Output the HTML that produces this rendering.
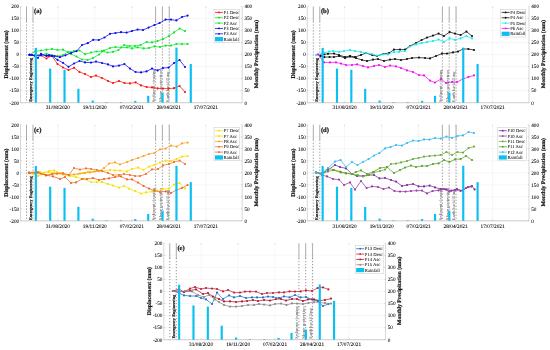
<!DOCTYPE html>
<html><head><meta charset="utf-8"><title>Figure</title>
<style>html,body{margin:0;padding:0;background:#fff;overflow:hidden;}svg{display:block;font-family:"Liberation Serif",serif;will-change:transform;text-rendering:geometricPrecision;}</style>
</head><body>
<svg width="550" height="350" viewBox="0 0 550 350" font-family='"Liberation Serif", serif'>
<rect width="550" height="350" fill="#fff"/>
<g id="pa">
<line x1="20.5" y1="18.52" x2="242.2" y2="18.52" stroke="#efefef" stroke-width="0.5"/>
<line x1="20.5" y1="30.55" x2="242.2" y2="30.55" stroke="#efefef" stroke-width="0.5"/>
<line x1="20.5" y1="42.58" x2="242.2" y2="42.58" stroke="#efefef" stroke-width="0.5"/>
<line x1="20.5" y1="54.6" x2="242.2" y2="54.6" stroke="#efefef" stroke-width="0.5"/>
<line x1="20.5" y1="66.62" x2="242.2" y2="66.62" stroke="#efefef" stroke-width="0.5"/>
<line x1="20.5" y1="78.65" x2="242.2" y2="78.65" stroke="#efefef" stroke-width="0.5"/>
<line x1="20.5" y1="90.67" x2="242.2" y2="90.67" stroke="#efefef" stroke-width="0.5"/>
<line x1="20.5" y1="102.7" x2="242.2" y2="102.7" stroke="#efefef" stroke-width="0.5"/>
<line x1="57.8" y1="6.5" x2="57.8" y2="102.7" stroke="#efefef" stroke-width="0.5"/>
<line x1="94.8" y1="6.5" x2="94.8" y2="102.7" stroke="#efefef" stroke-width="0.5"/>
<line x1="131.8" y1="6.5" x2="131.8" y2="102.7" stroke="#efefef" stroke-width="0.5"/>
<line x1="168.8" y1="6.5" x2="168.8" y2="102.7" stroke="#efefef" stroke-width="0.5"/>
<line x1="205.8" y1="6.5" x2="205.8" y2="102.7" stroke="#efefef" stroke-width="0.5"/>
<line x1="26.5" y1="6.5" x2="26.5" y2="21.5" stroke="#a2a2a2" stroke-width="0.9"/>
<line x1="26.5" y1="21.5" x2="26.5" y2="102.7" stroke="#606060" stroke-width="0.8" stroke-dasharray="1 2"/>
<line x1="33" y1="6.5" x2="33" y2="21.5" stroke="#a2a2a2" stroke-width="0.9"/>
<line x1="33" y1="21.5" x2="33" y2="102.7" stroke="#606060" stroke-width="0.8" stroke-dasharray="1 2"/>
<line x1="155.6" y1="6.5" x2="155.6" y2="21.5" stroke="#a2a2a2" stroke-width="0.9"/>
<line x1="155.6" y1="21.5" x2="155.6" y2="102.7" stroke="#606060" stroke-width="0.8" stroke-dasharray="1 2"/>
<line x1="162.4" y1="6.5" x2="162.4" y2="21.5" stroke="#a2a2a2" stroke-width="0.9"/>
<line x1="162.4" y1="21.5" x2="162.4" y2="102.7" stroke="#606060" stroke-width="0.8" stroke-dasharray="1 2"/>
<line x1="169.3" y1="6.5" x2="169.3" y2="21.5" stroke="#a2a2a2" stroke-width="0.9"/>
<line x1="169.3" y1="21.5" x2="169.3" y2="102.7" stroke="#606060" stroke-width="0.8" stroke-dasharray="1 2"/>
<text transform="translate(30.1,101.7) rotate(-90)" x="0" y="1.5" font-size="4.1" textLength="43.8" lengthAdjust="spacingAndGlyphs" fill="#1a1a1a" stroke="#1a1a1a" stroke-width="0.2">Emergency Engineering</text>
<text transform="translate(153.4,102.1) rotate(-90)" x="0" y="1.5" font-size="4.3" textLength="32.5" lengthAdjust="spacingAndGlyphs" fill="#555">Sediment cleaning</text>
<text transform="translate(160.2,102.1) rotate(-90)" x="0" y="1.5" font-size="4.3" textLength="32.5" lengthAdjust="spacingAndGlyphs" fill="#555">Slope protection</text>
<text transform="translate(167.1,102.1) rotate(-90)" x="0" y="1.5" font-size="4.3" textLength="30.5" lengthAdjust="spacingAndGlyphs" fill="#555">Earth backfilling</text>
<line x1="20.5" y1="6.5" x2="20.5" y2="102.7" stroke="#bdbdbd" stroke-width="0.6"/>
<line x1="242.2" y1="6.5" x2="242.2" y2="102.7" stroke="#bdbdbd" stroke-width="0.6"/>
<line x1="20.5" y1="102.7" x2="242.2" y2="102.7" stroke="#bdbdbd" stroke-width="0.7"/>
<line x1="20.5" y1="6.5" x2="21.8" y2="6.5" stroke="#bdbdbd" stroke-width="0.5"/>
<line x1="240.9" y1="6.5" x2="242.2" y2="6.5" stroke="#bdbdbd" stroke-width="0.5"/>
<line x1="20.5" y1="18.52" x2="21.8" y2="18.52" stroke="#bdbdbd" stroke-width="0.5"/>
<line x1="240.9" y1="18.52" x2="242.2" y2="18.52" stroke="#bdbdbd" stroke-width="0.5"/>
<line x1="20.5" y1="30.55" x2="21.8" y2="30.55" stroke="#bdbdbd" stroke-width="0.5"/>
<line x1="240.9" y1="30.55" x2="242.2" y2="30.55" stroke="#bdbdbd" stroke-width="0.5"/>
<line x1="20.5" y1="42.58" x2="21.8" y2="42.58" stroke="#bdbdbd" stroke-width="0.5"/>
<line x1="240.9" y1="42.58" x2="242.2" y2="42.58" stroke="#bdbdbd" stroke-width="0.5"/>
<line x1="20.5" y1="54.6" x2="21.8" y2="54.6" stroke="#bdbdbd" stroke-width="0.5"/>
<line x1="240.9" y1="54.6" x2="242.2" y2="54.6" stroke="#bdbdbd" stroke-width="0.5"/>
<line x1="20.5" y1="66.62" x2="21.8" y2="66.62" stroke="#bdbdbd" stroke-width="0.5"/>
<line x1="240.9" y1="66.62" x2="242.2" y2="66.62" stroke="#bdbdbd" stroke-width="0.5"/>
<line x1="20.5" y1="78.65" x2="21.8" y2="78.65" stroke="#bdbdbd" stroke-width="0.5"/>
<line x1="240.9" y1="78.65" x2="242.2" y2="78.65" stroke="#bdbdbd" stroke-width="0.5"/>
<line x1="20.5" y1="90.67" x2="21.8" y2="90.67" stroke="#bdbdbd" stroke-width="0.5"/>
<line x1="240.9" y1="90.67" x2="242.2" y2="90.67" stroke="#bdbdbd" stroke-width="0.5"/>
<line x1="20.5" y1="102.7" x2="21.8" y2="102.7" stroke="#bdbdbd" stroke-width="0.5"/>
<line x1="240.9" y1="102.7" x2="242.2" y2="102.7" stroke="#bdbdbd" stroke-width="0.5"/>
<line x1="57.8" y1="101.4" x2="57.8" y2="102.7" stroke="#bdbdbd" stroke-width="0.5"/>
<line x1="57.8" y1="6.5" x2="57.8" y2="8" stroke="#bdbdbd" stroke-width="0.5"/>
<line x1="94.8" y1="101.4" x2="94.8" y2="102.7" stroke="#bdbdbd" stroke-width="0.5"/>
<line x1="94.8" y1="6.5" x2="94.8" y2="8" stroke="#bdbdbd" stroke-width="0.5"/>
<line x1="131.8" y1="101.4" x2="131.8" y2="102.7" stroke="#bdbdbd" stroke-width="0.5"/>
<line x1="131.8" y1="6.5" x2="131.8" y2="8" stroke="#bdbdbd" stroke-width="0.5"/>
<line x1="168.8" y1="101.4" x2="168.8" y2="102.7" stroke="#bdbdbd" stroke-width="0.5"/>
<line x1="168.8" y1="6.5" x2="168.8" y2="8" stroke="#bdbdbd" stroke-width="0.5"/>
<line x1="205.8" y1="101.4" x2="205.8" y2="102.7" stroke="#bdbdbd" stroke-width="0.5"/>
<line x1="205.8" y1="6.5" x2="205.8" y2="8" stroke="#bdbdbd" stroke-width="0.5"/>
<text x="19.1" y="8.3" font-size="5.2" text-anchor="end" fill="#000" stroke="#000" stroke-width="0.07">200</text>
<text x="244.4" y="8.3" font-size="5.2" fill="#000" stroke="#000" stroke-width="0.07">400</text>
<text x="19.1" y="20.32" font-size="5.2" text-anchor="end" fill="#000" stroke="#000" stroke-width="0.07">150</text>
<text x="244.4" y="20.32" font-size="5.2" fill="#000" stroke="#000" stroke-width="0.07">350</text>
<text x="19.1" y="32.35" font-size="5.2" text-anchor="end" fill="#000" stroke="#000" stroke-width="0.07">100</text>
<text x="244.4" y="32.35" font-size="5.2" fill="#000" stroke="#000" stroke-width="0.07">300</text>
<text x="19.1" y="44.38" font-size="5.2" text-anchor="end" fill="#000" stroke="#000" stroke-width="0.07">50</text>
<text x="244.4" y="44.38" font-size="5.2" fill="#000" stroke="#000" stroke-width="0.07">250</text>
<text x="19.1" y="56.4" font-size="5.2" text-anchor="end" fill="#000" stroke="#000" stroke-width="0.07">0</text>
<text x="244.4" y="56.4" font-size="5.2" fill="#000" stroke="#000" stroke-width="0.07">200</text>
<text x="19.1" y="68.42" font-size="5.2" text-anchor="end" fill="#000" stroke="#000" stroke-width="0.07">-50</text>
<text x="244.4" y="68.42" font-size="5.2" fill="#000" stroke="#000" stroke-width="0.07">150</text>
<text x="19.1" y="80.45" font-size="5.2" text-anchor="end" fill="#000" stroke="#000" stroke-width="0.07">-100</text>
<text x="244.4" y="80.45" font-size="5.2" fill="#000" stroke="#000" stroke-width="0.07">100</text>
<text x="19.1" y="92.47" font-size="5.2" text-anchor="end" fill="#000" stroke="#000" stroke-width="0.07">-150</text>
<text x="244.4" y="92.47" font-size="5.2" fill="#000" stroke="#000" stroke-width="0.07">50</text>
<text x="19.1" y="104.5" font-size="5.2" text-anchor="end" fill="#000" stroke="#000" stroke-width="0.07">-200</text>
<text x="244.4" y="104.5" font-size="5.2" fill="#000" stroke="#000" stroke-width="0.07">0</text>
<text x="57.8" y="109.4" font-size="5.3" text-anchor="middle" fill="#000" stroke="#000" stroke-width="0.07">31/08/2020</text>
<text x="94.8" y="109.4" font-size="5.3" text-anchor="middle" fill="#000" stroke="#000" stroke-width="0.07">19/11/2020</text>
<text x="131.8" y="109.4" font-size="5.3" text-anchor="middle" fill="#000" stroke="#000" stroke-width="0.07">07/02/2021</text>
<text x="168.8" y="109.4" font-size="5.3" text-anchor="middle" fill="#000" stroke="#000" stroke-width="0.07">28/04/2021</text>
<text x="205.8" y="109.4" font-size="5.3" text-anchor="middle" fill="#000" stroke="#000" stroke-width="0.07">17/07/2021</text>
<text transform="translate(8,54.4) rotate(-90)" x="0" y="0" font-size="5.8" font-weight="bold" text-anchor="middle" textLength="48.2" lengthAdjust="spacingAndGlyphs" fill="#111" stroke="#111" stroke-width="0.2">Displacement (mm)</text>
<text transform="translate(257.9,54.05) rotate(-90)" x="0" y="0" font-size="5.6" font-weight="bold" text-anchor="middle" textLength="68.3" lengthAdjust="spacingAndGlyphs" fill="#111" stroke="#111" stroke-width="0.2">Monthly Precipitation (mm)</text>
<text x="34.1" y="13.4" font-size="6.6" font-weight="bold" fill="#111" stroke="#111" stroke-width="0.2">(a)</text>
<polyline points="29.5,54.8 35,55.5 41,55.5 46.5,58.5 49,56.5 52,56 57.5,64 63,67.5 68.5,70 74,67.8 79.5,72 85,74 91,77 96,75.6 102,78 108,81 113,83 119,81 124.4,83 130,83.4 135.6,82.4 141,85.4 146.6,87 152,87.4 157.6,88.4 163,88.6 168.6,88.6 174,88.2 179.6,86 185,92" fill="none" stroke="#ff1010" stroke-width="0.75" stroke-linejoin="round"/>
<circle cx="29.5" cy="54.8" r="1.1" fill="#ff1010"/>
<circle cx="35" cy="55.5" r="1.1" fill="#ff1010"/>
<circle cx="41" cy="55.5" r="1.1" fill="#ff1010"/>
<circle cx="46.5" cy="58.5" r="1.1" fill="#ff1010"/>
<circle cx="49" cy="56.5" r="1.1" fill="#ff1010"/>
<circle cx="52" cy="56" r="1.1" fill="#ff1010"/>
<circle cx="57.5" cy="64" r="1.1" fill="#ff1010"/>
<circle cx="63" cy="67.5" r="1.1" fill="#ff1010"/>
<circle cx="68.5" cy="70" r="1.1" fill="#ff1010"/>
<circle cx="74" cy="67.8" r="1.1" fill="#ff1010"/>
<circle cx="79.5" cy="72" r="1.1" fill="#ff1010"/>
<circle cx="85" cy="74" r="1.1" fill="#ff1010"/>
<circle cx="91" cy="77" r="1.1" fill="#ff1010"/>
<circle cx="96" cy="75.6" r="1.1" fill="#ff1010"/>
<circle cx="102" cy="78" r="1.1" fill="#ff1010"/>
<circle cx="108" cy="81" r="1.1" fill="#ff1010"/>
<circle cx="113" cy="83" r="1.1" fill="#ff1010"/>
<circle cx="119" cy="81" r="1.1" fill="#ff1010"/>
<circle cx="124.4" cy="83" r="1.1" fill="#ff1010"/>
<circle cx="130" cy="83.4" r="1.1" fill="#ff1010"/>
<circle cx="135.6" cy="82.4" r="1.1" fill="#ff1010"/>
<circle cx="141" cy="85.4" r="1.1" fill="#ff1010"/>
<circle cx="146.6" cy="87" r="1.1" fill="#ff1010"/>
<circle cx="152" cy="87.4" r="1.1" fill="#ff1010"/>
<circle cx="157.6" cy="88.4" r="1.1" fill="#ff1010"/>
<circle cx="163" cy="88.6" r="1.1" fill="#ff1010"/>
<circle cx="168.6" cy="88.6" r="1.1" fill="#ff1010"/>
<circle cx="174" cy="88.2" r="1.1" fill="#ff1010"/>
<circle cx="179.6" cy="86" r="1.1" fill="#ff1010"/>
<circle cx="185" cy="92" r="1.1" fill="#ff1010"/>
<polyline points="29.5,54.8 35,51.5 41,50.5 46.5,49.7 52,49 57.5,50 63,49.7 68.5,52.5 71,54 76.5,56.5 82,59.5 87.5,60 93,58 99,54.5 104,50.5 110,48 115.5,47 121,47.5 127,47.4 132,48.4 137.6,47.4 143.6,48.4 149,48 154.4,46.4 160,47 165.6,45.6 171,45.6 176.4,44 182,44 187.6,44" fill="none" stroke="#08e828" stroke-width="0.75" stroke-linejoin="round"/>
<circle cx="29.5" cy="54.8" r="1.1" fill="#08e828"/>
<circle cx="35" cy="51.5" r="1.1" fill="#08e828"/>
<circle cx="41" cy="50.5" r="1.1" fill="#08e828"/>
<circle cx="46.5" cy="49.7" r="1.1" fill="#08e828"/>
<circle cx="52" cy="49" r="1.1" fill="#08e828"/>
<circle cx="57.5" cy="50" r="1.1" fill="#08e828"/>
<circle cx="63" cy="49.7" r="1.1" fill="#08e828"/>
<circle cx="68.5" cy="52.5" r="1.1" fill="#08e828"/>
<circle cx="71" cy="54" r="1.1" fill="#08e828"/>
<circle cx="76.5" cy="56.5" r="1.1" fill="#08e828"/>
<circle cx="82" cy="59.5" r="1.1" fill="#08e828"/>
<circle cx="87.5" cy="60" r="1.1" fill="#08e828"/>
<circle cx="93" cy="58" r="1.1" fill="#08e828"/>
<circle cx="99" cy="54.5" r="1.1" fill="#08e828"/>
<circle cx="104" cy="50.5" r="1.1" fill="#08e828"/>
<circle cx="110" cy="48" r="1.1" fill="#08e828"/>
<circle cx="115.5" cy="47" r="1.1" fill="#08e828"/>
<circle cx="121" cy="47.5" r="1.1" fill="#08e828"/>
<circle cx="127" cy="47.4" r="1.1" fill="#08e828"/>
<circle cx="132" cy="48.4" r="1.1" fill="#08e828"/>
<circle cx="137.6" cy="47.4" r="1.1" fill="#08e828"/>
<circle cx="143.6" cy="48.4" r="1.1" fill="#08e828"/>
<circle cx="149" cy="48" r="1.1" fill="#08e828"/>
<circle cx="154.4" cy="46.4" r="1.1" fill="#08e828"/>
<circle cx="160" cy="47" r="1.1" fill="#08e828"/>
<circle cx="165.6" cy="45.6" r="1.1" fill="#08e828"/>
<circle cx="171" cy="45.6" r="1.1" fill="#08e828"/>
<circle cx="176.4" cy="44" r="1.1" fill="#08e828"/>
<circle cx="182" cy="44" r="1.1" fill="#08e828"/>
<circle cx="187.6" cy="44" r="1.1" fill="#08e828"/>
<polyline points="29.5,54.8 35,55.5 41,54.5 46.5,53.8 52,55 57.5,56.2 63,55 68,52 74,51.2 79.5,50.5 85,54.2 91,52.5 96.5,51.5 102,51.2 107.5,52.5 113,51.8 118.5,50 124,45 129.6,46 135,46 140.6,45 146.6,42 152,42.4 157.6,41 163,39 169,36 174,32.4 179.6,28.6 185,31" fill="none" stroke="#08e828" stroke-width="0.75" stroke-linejoin="round"/>
<circle cx="29.5" cy="54.8" r="1.1" fill="#08e828"/>
<circle cx="35" cy="55.5" r="1.1" fill="#08e828"/>
<circle cx="41" cy="54.5" r="1.1" fill="#08e828"/>
<circle cx="46.5" cy="53.8" r="1.1" fill="#08e828"/>
<circle cx="52" cy="55" r="1.1" fill="#08e828"/>
<circle cx="57.5" cy="56.2" r="1.1" fill="#08e828"/>
<circle cx="63" cy="55" r="1.1" fill="#08e828"/>
<circle cx="68" cy="52" r="1.1" fill="#08e828"/>
<circle cx="74" cy="51.2" r="1.1" fill="#08e828"/>
<circle cx="79.5" cy="50.5" r="1.1" fill="#08e828"/>
<circle cx="85" cy="54.2" r="1.1" fill="#08e828"/>
<circle cx="91" cy="52.5" r="1.1" fill="#08e828"/>
<circle cx="96.5" cy="51.5" r="1.1" fill="#08e828"/>
<circle cx="102" cy="51.2" r="1.1" fill="#08e828"/>
<circle cx="107.5" cy="52.5" r="1.1" fill="#08e828"/>
<circle cx="113" cy="51.8" r="1.1" fill="#08e828"/>
<circle cx="118.5" cy="50" r="1.1" fill="#08e828"/>
<circle cx="124" cy="45" r="1.1" fill="#08e828"/>
<circle cx="129.6" cy="46" r="1.1" fill="#08e828"/>
<circle cx="135" cy="46" r="1.1" fill="#08e828"/>
<circle cx="140.6" cy="45" r="1.1" fill="#08e828"/>
<circle cx="146.6" cy="42" r="1.1" fill="#08e828"/>
<circle cx="152" cy="42.4" r="1.1" fill="#08e828"/>
<circle cx="157.6" cy="41" r="1.1" fill="#08e828"/>
<circle cx="163" cy="39" r="1.1" fill="#08e828"/>
<circle cx="169" cy="36" r="1.1" fill="#08e828"/>
<circle cx="174" cy="32.4" r="1.1" fill="#08e828"/>
<circle cx="179.6" cy="28.6" r="1.1" fill="#08e828"/>
<circle cx="185" cy="31" r="1.1" fill="#08e828"/>
<polyline points="29.5,54.8 32,55 38,57.8 41,53.8 46.5,56 49,55 52,56 54.5,56 60,57.2 65.5,55.3 71,53 76.5,51.2 82,45 87.8,43.2 93.2,39.8 98.8,40 104.5,37.5 110,33.8 115.5,33 121,32.2 126.6,32.6 132,31 137.6,29.6 143,30 148.6,27.6 154.4,25 159.6,23 165.6,19.6 171,19.6 176.4,20.4 182,17 187.6,15.6" fill="none" stroke="#0a0af0" stroke-width="0.75" stroke-linejoin="round"/>
<circle cx="29.5" cy="54.8" r="1.1" fill="#0a0af0"/>
<circle cx="32" cy="55" r="1.1" fill="#0a0af0"/>
<circle cx="38" cy="57.8" r="1.1" fill="#0a0af0"/>
<circle cx="41" cy="53.8" r="1.1" fill="#0a0af0"/>
<circle cx="46.5" cy="56" r="1.1" fill="#0a0af0"/>
<circle cx="49" cy="55" r="1.1" fill="#0a0af0"/>
<circle cx="52" cy="56" r="1.1" fill="#0a0af0"/>
<circle cx="54.5" cy="56" r="1.1" fill="#0a0af0"/>
<circle cx="60" cy="57.2" r="1.1" fill="#0a0af0"/>
<circle cx="65.5" cy="55.3" r="1.1" fill="#0a0af0"/>
<circle cx="71" cy="53" r="1.1" fill="#0a0af0"/>
<circle cx="76.5" cy="51.2" r="1.1" fill="#0a0af0"/>
<circle cx="82" cy="45" r="1.1" fill="#0a0af0"/>
<circle cx="87.8" cy="43.2" r="1.1" fill="#0a0af0"/>
<circle cx="93.2" cy="39.8" r="1.1" fill="#0a0af0"/>
<circle cx="98.8" cy="40" r="1.1" fill="#0a0af0"/>
<circle cx="104.5" cy="37.5" r="1.1" fill="#0a0af0"/>
<circle cx="110" cy="33.8" r="1.1" fill="#0a0af0"/>
<circle cx="115.5" cy="33" r="1.1" fill="#0a0af0"/>
<circle cx="121" cy="32.2" r="1.1" fill="#0a0af0"/>
<circle cx="126.6" cy="32.6" r="1.1" fill="#0a0af0"/>
<circle cx="132" cy="31" r="1.1" fill="#0a0af0"/>
<circle cx="137.6" cy="29.6" r="1.1" fill="#0a0af0"/>
<circle cx="143" cy="30" r="1.1" fill="#0a0af0"/>
<circle cx="148.6" cy="27.6" r="1.1" fill="#0a0af0"/>
<circle cx="154.4" cy="25" r="1.1" fill="#0a0af0"/>
<circle cx="159.6" cy="23" r="1.1" fill="#0a0af0"/>
<circle cx="165.6" cy="19.6" r="1.1" fill="#0a0af0"/>
<circle cx="171" cy="19.6" r="1.1" fill="#0a0af0"/>
<circle cx="176.4" cy="20.4" r="1.1" fill="#0a0af0"/>
<circle cx="182" cy="17" r="1.1" fill="#0a0af0"/>
<circle cx="187.6" cy="15.6" r="1.1" fill="#0a0af0"/>
<polyline points="29.5,54.8 35,55.5 41,55 46.5,55.5 52,56 57.5,59.8 63,62.8 68.5,66.8 74,63.5 79.5,61 85,62.4 91,62.6 96,61.6 102,63 108,64.4 113,66.4 119,65.6 124.4,64 130,68.6 135.6,72 141,72.4 146.6,71.4 152,68.6 157.6,70.4 163,68 168.6,67.6 174,63 179.6,60 185,67" fill="none" stroke="#0a0af0" stroke-width="0.75" stroke-linejoin="round"/>
<circle cx="29.5" cy="54.8" r="1.1" fill="#0a0af0"/>
<circle cx="35" cy="55.5" r="1.1" fill="#0a0af0"/>
<circle cx="41" cy="55" r="1.1" fill="#0a0af0"/>
<circle cx="46.5" cy="55.5" r="1.1" fill="#0a0af0"/>
<circle cx="52" cy="56" r="1.1" fill="#0a0af0"/>
<circle cx="57.5" cy="59.8" r="1.1" fill="#0a0af0"/>
<circle cx="63" cy="62.8" r="1.1" fill="#0a0af0"/>
<circle cx="68.5" cy="66.8" r="1.1" fill="#0a0af0"/>
<circle cx="74" cy="63.5" r="1.1" fill="#0a0af0"/>
<circle cx="79.5" cy="61" r="1.1" fill="#0a0af0"/>
<circle cx="85" cy="62.4" r="1.1" fill="#0a0af0"/>
<circle cx="91" cy="62.6" r="1.1" fill="#0a0af0"/>
<circle cx="96" cy="61.6" r="1.1" fill="#0a0af0"/>
<circle cx="102" cy="63" r="1.1" fill="#0a0af0"/>
<circle cx="108" cy="64.4" r="1.1" fill="#0a0af0"/>
<circle cx="113" cy="66.4" r="1.1" fill="#0a0af0"/>
<circle cx="119" cy="65.6" r="1.1" fill="#0a0af0"/>
<circle cx="124.4" cy="64" r="1.1" fill="#0a0af0"/>
<circle cx="130" cy="68.6" r="1.1" fill="#0a0af0"/>
<circle cx="135.6" cy="72" r="1.1" fill="#0a0af0"/>
<circle cx="141" cy="72.4" r="1.1" fill="#0a0af0"/>
<circle cx="146.6" cy="71.4" r="1.1" fill="#0a0af0"/>
<circle cx="152" cy="68.6" r="1.1" fill="#0a0af0"/>
<circle cx="157.6" cy="70.4" r="1.1" fill="#0a0af0"/>
<circle cx="163" cy="68" r="1.1" fill="#0a0af0"/>
<circle cx="168.6" cy="67.6" r="1.1" fill="#0a0af0"/>
<circle cx="174" cy="63" r="1.1" fill="#0a0af0"/>
<circle cx="179.6" cy="60" r="1.1" fill="#0a0af0"/>
<circle cx="185" cy="67" r="1.1" fill="#0a0af0"/>
<rect x="34.77" y="47.87" width="2.15" height="54.83" fill="#0bbff0"/>
<rect x="49.11" y="68.55" width="2.15" height="34.15" fill="#0bbff0"/>
<rect x="63.45" y="69.75" width="2.15" height="32.95" fill="#0bbff0"/>
<rect x="77.33" y="88.75" width="2.15" height="13.95" fill="#0bbff0"/>
<rect x="91.66" y="100.54" width="2.15" height="2.16" fill="#0bbff0"/>
<rect x="105.54" y="102.1" width="2.15" height="0.6" fill="#0bbff0"/>
<rect x="119.88" y="102.1" width="2.15" height="0.6" fill="#0bbff0"/>
<rect x="134.21" y="100.9" width="2.15" height="1.8" fill="#0bbff0"/>
<rect x="147.16" y="95.85" width="2.15" height="6.85" fill="#0bbff0"/>
<rect x="161.5" y="92.6" width="2.15" height="10.1" fill="#0bbff0"/>
<rect x="175.38" y="47.63" width="2.15" height="55.07" fill="#0bbff0"/>
<rect x="189.71" y="63.98" width="2.15" height="38.72" fill="#0bbff0"/>
<rect x="214" y="9.3" width="25.8" height="33.1" fill="#fff" stroke="#c8c8c8" stroke-width="0.5"/>
<line x1="215" y1="12.4" x2="223" y2="12.4" stroke="#ff1010" stroke-width="0.8"/>
<circle cx="219" cy="12.4" r="0.9" fill="#ff1010"/>
<text x="223.6" y="14" font-size="4.7" fill="#222" stroke="#222" stroke-width="0.05">P1 Desc</text>
<line x1="215" y1="17.75" x2="223" y2="17.75" stroke="#08e828" stroke-width="0.8"/>
<circle cx="219" cy="17.75" r="0.9" fill="#08e828"/>
<text x="223.6" y="19.35" font-size="4.7" fill="#222" stroke="#222" stroke-width="0.05">P2 Desc</text>
<line x1="215" y1="23.1" x2="223" y2="23.1" stroke="#08e828" stroke-width="0.8"/>
<circle cx="219" cy="23.1" r="0.9" fill="#08e828"/>
<text x="223.6" y="24.7" font-size="4.7" fill="#222" stroke="#222" stroke-width="0.05">P2 Asc</text>
<line x1="215" y1="28.45" x2="223" y2="28.45" stroke="#0a0af0" stroke-width="0.8"/>
<circle cx="219" cy="28.45" r="0.9" fill="#0a0af0"/>
<text x="223.6" y="30.05" font-size="4.7" fill="#222" stroke="#222" stroke-width="0.05">P3 Desc</text>
<line x1="215" y1="33.8" x2="223" y2="33.8" stroke="#0a0af0" stroke-width="0.8"/>
<circle cx="219" cy="33.8" r="0.9" fill="#0a0af0"/>
<text x="223.6" y="35.4" font-size="4.7" fill="#222" stroke="#222" stroke-width="0.05">P3 Asc</text>
<rect x="215" y="37.05" width="8.0" height="4.2" fill="#0bbff0"/>
<text x="223.6" y="40.75" font-size="4.7" fill="#222" stroke="#222" stroke-width="0.05">Rainfall</text>
</g>
<g id="pb">
<line x1="307.3" y1="18.52" x2="529" y2="18.52" stroke="#efefef" stroke-width="0.5"/>
<line x1="307.3" y1="30.55" x2="529" y2="30.55" stroke="#efefef" stroke-width="0.5"/>
<line x1="307.3" y1="42.58" x2="529" y2="42.58" stroke="#efefef" stroke-width="0.5"/>
<line x1="307.3" y1="54.6" x2="529" y2="54.6" stroke="#efefef" stroke-width="0.5"/>
<line x1="307.3" y1="66.62" x2="529" y2="66.62" stroke="#efefef" stroke-width="0.5"/>
<line x1="307.3" y1="78.65" x2="529" y2="78.65" stroke="#efefef" stroke-width="0.5"/>
<line x1="307.3" y1="90.67" x2="529" y2="90.67" stroke="#efefef" stroke-width="0.5"/>
<line x1="307.3" y1="102.7" x2="529" y2="102.7" stroke="#efefef" stroke-width="0.5"/>
<line x1="344.6" y1="6.5" x2="344.6" y2="102.7" stroke="#efefef" stroke-width="0.5"/>
<line x1="381.6" y1="6.5" x2="381.6" y2="102.7" stroke="#efefef" stroke-width="0.5"/>
<line x1="418.6" y1="6.5" x2="418.6" y2="102.7" stroke="#efefef" stroke-width="0.5"/>
<line x1="455.6" y1="6.5" x2="455.6" y2="102.7" stroke="#efefef" stroke-width="0.5"/>
<line x1="492.6" y1="6.5" x2="492.6" y2="102.7" stroke="#efefef" stroke-width="0.5"/>
<line x1="313.3" y1="6.5" x2="313.3" y2="21.5" stroke="#a2a2a2" stroke-width="0.9"/>
<line x1="313.3" y1="21.5" x2="313.3" y2="102.7" stroke="#606060" stroke-width="0.8" stroke-dasharray="1 2"/>
<line x1="319.8" y1="6.5" x2="319.8" y2="21.5" stroke="#a2a2a2" stroke-width="0.9"/>
<line x1="319.8" y1="21.5" x2="319.8" y2="102.7" stroke="#606060" stroke-width="0.8" stroke-dasharray="1 2"/>
<line x1="442.4" y1="6.5" x2="442.4" y2="21.5" stroke="#a2a2a2" stroke-width="0.9"/>
<line x1="442.4" y1="21.5" x2="442.4" y2="102.7" stroke="#606060" stroke-width="0.8" stroke-dasharray="1 2"/>
<line x1="449.2" y1="6.5" x2="449.2" y2="21.5" stroke="#a2a2a2" stroke-width="0.9"/>
<line x1="449.2" y1="21.5" x2="449.2" y2="102.7" stroke="#606060" stroke-width="0.8" stroke-dasharray="1 2"/>
<line x1="456.1" y1="6.5" x2="456.1" y2="21.5" stroke="#a2a2a2" stroke-width="0.9"/>
<line x1="456.1" y1="21.5" x2="456.1" y2="102.7" stroke="#606060" stroke-width="0.8" stroke-dasharray="1 2"/>
<text transform="translate(316.9,101.7) rotate(-90)" x="0" y="1.5" font-size="4.1" textLength="43.8" lengthAdjust="spacingAndGlyphs" fill="#1a1a1a" stroke="#1a1a1a" stroke-width="0.2">Emergency Engineering</text>
<text transform="translate(440.2,102.1) rotate(-90)" x="0" y="1.5" font-size="4.3" textLength="32.5" lengthAdjust="spacingAndGlyphs" fill="#555">Sediment cleaning</text>
<text transform="translate(447,102.1) rotate(-90)" x="0" y="1.5" font-size="4.3" textLength="32.5" lengthAdjust="spacingAndGlyphs" fill="#555">Slope protection</text>
<text transform="translate(453.9,102.1) rotate(-90)" x="0" y="1.5" font-size="4.3" textLength="30.5" lengthAdjust="spacingAndGlyphs" fill="#555">Earth backfilling</text>
<line x1="307.3" y1="6.5" x2="307.3" y2="102.7" stroke="#bdbdbd" stroke-width="0.6"/>
<line x1="529" y1="6.5" x2="529" y2="102.7" stroke="#bdbdbd" stroke-width="0.6"/>
<line x1="307.3" y1="102.7" x2="529" y2="102.7" stroke="#bdbdbd" stroke-width="0.7"/>
<line x1="307.3" y1="6.5" x2="308.6" y2="6.5" stroke="#bdbdbd" stroke-width="0.5"/>
<line x1="527.7" y1="6.5" x2="529" y2="6.5" stroke="#bdbdbd" stroke-width="0.5"/>
<line x1="307.3" y1="18.52" x2="308.6" y2="18.52" stroke="#bdbdbd" stroke-width="0.5"/>
<line x1="527.7" y1="18.52" x2="529" y2="18.52" stroke="#bdbdbd" stroke-width="0.5"/>
<line x1="307.3" y1="30.55" x2="308.6" y2="30.55" stroke="#bdbdbd" stroke-width="0.5"/>
<line x1="527.7" y1="30.55" x2="529" y2="30.55" stroke="#bdbdbd" stroke-width="0.5"/>
<line x1="307.3" y1="42.58" x2="308.6" y2="42.58" stroke="#bdbdbd" stroke-width="0.5"/>
<line x1="527.7" y1="42.58" x2="529" y2="42.58" stroke="#bdbdbd" stroke-width="0.5"/>
<line x1="307.3" y1="54.6" x2="308.6" y2="54.6" stroke="#bdbdbd" stroke-width="0.5"/>
<line x1="527.7" y1="54.6" x2="529" y2="54.6" stroke="#bdbdbd" stroke-width="0.5"/>
<line x1="307.3" y1="66.62" x2="308.6" y2="66.62" stroke="#bdbdbd" stroke-width="0.5"/>
<line x1="527.7" y1="66.62" x2="529" y2="66.62" stroke="#bdbdbd" stroke-width="0.5"/>
<line x1="307.3" y1="78.65" x2="308.6" y2="78.65" stroke="#bdbdbd" stroke-width="0.5"/>
<line x1="527.7" y1="78.65" x2="529" y2="78.65" stroke="#bdbdbd" stroke-width="0.5"/>
<line x1="307.3" y1="90.67" x2="308.6" y2="90.67" stroke="#bdbdbd" stroke-width="0.5"/>
<line x1="527.7" y1="90.67" x2="529" y2="90.67" stroke="#bdbdbd" stroke-width="0.5"/>
<line x1="307.3" y1="102.7" x2="308.6" y2="102.7" stroke="#bdbdbd" stroke-width="0.5"/>
<line x1="527.7" y1="102.7" x2="529" y2="102.7" stroke="#bdbdbd" stroke-width="0.5"/>
<line x1="344.6" y1="101.4" x2="344.6" y2="102.7" stroke="#bdbdbd" stroke-width="0.5"/>
<line x1="344.6" y1="6.5" x2="344.6" y2="8" stroke="#bdbdbd" stroke-width="0.5"/>
<line x1="381.6" y1="101.4" x2="381.6" y2="102.7" stroke="#bdbdbd" stroke-width="0.5"/>
<line x1="381.6" y1="6.5" x2="381.6" y2="8" stroke="#bdbdbd" stroke-width="0.5"/>
<line x1="418.6" y1="101.4" x2="418.6" y2="102.7" stroke="#bdbdbd" stroke-width="0.5"/>
<line x1="418.6" y1="6.5" x2="418.6" y2="8" stroke="#bdbdbd" stroke-width="0.5"/>
<line x1="455.6" y1="101.4" x2="455.6" y2="102.7" stroke="#bdbdbd" stroke-width="0.5"/>
<line x1="455.6" y1="6.5" x2="455.6" y2="8" stroke="#bdbdbd" stroke-width="0.5"/>
<line x1="492.6" y1="101.4" x2="492.6" y2="102.7" stroke="#bdbdbd" stroke-width="0.5"/>
<line x1="492.6" y1="6.5" x2="492.6" y2="8" stroke="#bdbdbd" stroke-width="0.5"/>
<text x="305.9" y="8.3" font-size="5.2" text-anchor="end" fill="#000" stroke="#000" stroke-width="0.07">200</text>
<text x="531.2" y="8.3" font-size="5.2" fill="#000" stroke="#000" stroke-width="0.07">400</text>
<text x="305.9" y="20.32" font-size="5.2" text-anchor="end" fill="#000" stroke="#000" stroke-width="0.07">150</text>
<text x="531.2" y="20.32" font-size="5.2" fill="#000" stroke="#000" stroke-width="0.07">350</text>
<text x="305.9" y="32.35" font-size="5.2" text-anchor="end" fill="#000" stroke="#000" stroke-width="0.07">100</text>
<text x="531.2" y="32.35" font-size="5.2" fill="#000" stroke="#000" stroke-width="0.07">300</text>
<text x="305.9" y="44.38" font-size="5.2" text-anchor="end" fill="#000" stroke="#000" stroke-width="0.07">50</text>
<text x="531.2" y="44.38" font-size="5.2" fill="#000" stroke="#000" stroke-width="0.07">250</text>
<text x="305.9" y="56.4" font-size="5.2" text-anchor="end" fill="#000" stroke="#000" stroke-width="0.07">0</text>
<text x="531.2" y="56.4" font-size="5.2" fill="#000" stroke="#000" stroke-width="0.07">200</text>
<text x="305.9" y="68.42" font-size="5.2" text-anchor="end" fill="#000" stroke="#000" stroke-width="0.07">-50</text>
<text x="531.2" y="68.42" font-size="5.2" fill="#000" stroke="#000" stroke-width="0.07">150</text>
<text x="305.9" y="80.45" font-size="5.2" text-anchor="end" fill="#000" stroke="#000" stroke-width="0.07">-100</text>
<text x="531.2" y="80.45" font-size="5.2" fill="#000" stroke="#000" stroke-width="0.07">100</text>
<text x="305.9" y="92.47" font-size="5.2" text-anchor="end" fill="#000" stroke="#000" stroke-width="0.07">-150</text>
<text x="531.2" y="92.47" font-size="5.2" fill="#000" stroke="#000" stroke-width="0.07">50</text>
<text x="305.9" y="104.5" font-size="5.2" text-anchor="end" fill="#000" stroke="#000" stroke-width="0.07">-200</text>
<text x="531.2" y="104.5" font-size="5.2" fill="#000" stroke="#000" stroke-width="0.07">0</text>
<text x="344.6" y="109.4" font-size="5.3" text-anchor="middle" fill="#000" stroke="#000" stroke-width="0.07">31/08/2020</text>
<text x="381.6" y="109.4" font-size="5.3" text-anchor="middle" fill="#000" stroke="#000" stroke-width="0.07">19/11/2020</text>
<text x="418.6" y="109.4" font-size="5.3" text-anchor="middle" fill="#000" stroke="#000" stroke-width="0.07">07/02/2021</text>
<text x="455.6" y="109.4" font-size="5.3" text-anchor="middle" fill="#000" stroke="#000" stroke-width="0.07">28/04/2021</text>
<text x="492.6" y="109.4" font-size="5.3" text-anchor="middle" fill="#000" stroke="#000" stroke-width="0.07">17/07/2021</text>
<text transform="translate(294.8,54.4) rotate(-90)" x="0" y="0" font-size="5.8" font-weight="bold" text-anchor="middle" textLength="48.2" lengthAdjust="spacingAndGlyphs" fill="#111" stroke="#111" stroke-width="0.2">Displacement (mm)</text>
<text transform="translate(544.7,54.05) rotate(-90)" x="0" y="0" font-size="5.6" font-weight="bold" text-anchor="middle" textLength="68.3" lengthAdjust="spacingAndGlyphs" fill="#111" stroke="#111" stroke-width="0.2">Monthly Precipitation (mm)</text>
<text x="320.9" y="13.4" font-size="6.6" font-weight="bold" fill="#111" stroke="#111" stroke-width="0.2">(b)</text>
<polyline points="320.5,55.6 324.3,54.3 328,53.8 334,53.6 339,55 345,57 350,56 355,57 361,55 366,53 372,55 377,56 383,54 389,53 394,49.6 400,49.6 405,49.6 410,46 416,43 421.6,40 427,37.6 433,35.6 438.6,33.6 444,36 449.6,32 455,33.6 460.6,35 466.4,31.6 472,36" fill="none" stroke="#111111" stroke-width="0.75" stroke-linejoin="round"/>
<circle cx="320.5" cy="55.6" r="1.1" fill="#111111"/>
<circle cx="324.3" cy="54.3" r="1.1" fill="#111111"/>
<circle cx="328" cy="53.8" r="1.1" fill="#111111"/>
<circle cx="334" cy="53.6" r="1.1" fill="#111111"/>
<circle cx="339" cy="55" r="1.1" fill="#111111"/>
<circle cx="345" cy="57" r="1.1" fill="#111111"/>
<circle cx="350" cy="56" r="1.1" fill="#111111"/>
<circle cx="355" cy="57" r="1.1" fill="#111111"/>
<circle cx="361" cy="55" r="1.1" fill="#111111"/>
<circle cx="366" cy="53" r="1.1" fill="#111111"/>
<circle cx="372" cy="55" r="1.1" fill="#111111"/>
<circle cx="377" cy="56" r="1.1" fill="#111111"/>
<circle cx="383" cy="54" r="1.1" fill="#111111"/>
<circle cx="389" cy="53" r="1.1" fill="#111111"/>
<circle cx="394" cy="49.6" r="1.1" fill="#111111"/>
<circle cx="400" cy="49.6" r="1.1" fill="#111111"/>
<circle cx="405" cy="49.6" r="1.1" fill="#111111"/>
<circle cx="410" cy="46" r="1.1" fill="#111111"/>
<circle cx="416" cy="43" r="1.1" fill="#111111"/>
<circle cx="421.6" cy="40" r="1.1" fill="#111111"/>
<circle cx="427" cy="37.6" r="1.1" fill="#111111"/>
<circle cx="433" cy="35.6" r="1.1" fill="#111111"/>
<circle cx="438.6" cy="33.6" r="1.1" fill="#111111"/>
<circle cx="444" cy="36" r="1.1" fill="#111111"/>
<circle cx="449.6" cy="32" r="1.1" fill="#111111"/>
<circle cx="455" cy="33.6" r="1.1" fill="#111111"/>
<circle cx="460.6" cy="35" r="1.1" fill="#111111"/>
<circle cx="466.4" cy="31.6" r="1.1" fill="#111111"/>
<circle cx="472" cy="36" r="1.1" fill="#111111"/>
<polyline points="320.5,56 324.3,57.1 329.5,57 334,57 339,56 345,58 350,56.6 356,58 362,60 367,61 373,59.6 378,59 384,61 390,59.6 395,59 401,60 407,59 412,58 419,57.6 425,58 430,58.4 436,56 442,53.6 447,53.6 453,52.4 458,51.6 463,49 468.4,49 474,50" fill="none" stroke="#111111" stroke-width="0.75" stroke-linejoin="round"/>
<circle cx="320.5" cy="56" r="1.1" fill="#111111"/>
<circle cx="324.3" cy="57.1" r="1.1" fill="#111111"/>
<circle cx="329.5" cy="57" r="1.1" fill="#111111"/>
<circle cx="334" cy="57" r="1.1" fill="#111111"/>
<circle cx="339" cy="56" r="1.1" fill="#111111"/>
<circle cx="345" cy="58" r="1.1" fill="#111111"/>
<circle cx="350" cy="56.6" r="1.1" fill="#111111"/>
<circle cx="356" cy="58" r="1.1" fill="#111111"/>
<circle cx="362" cy="60" r="1.1" fill="#111111"/>
<circle cx="367" cy="61" r="1.1" fill="#111111"/>
<circle cx="373" cy="59.6" r="1.1" fill="#111111"/>
<circle cx="378" cy="59" r="1.1" fill="#111111"/>
<circle cx="384" cy="61" r="1.1" fill="#111111"/>
<circle cx="390" cy="59.6" r="1.1" fill="#111111"/>
<circle cx="395" cy="59" r="1.1" fill="#111111"/>
<circle cx="401" cy="60" r="1.1" fill="#111111"/>
<circle cx="407" cy="59" r="1.1" fill="#111111"/>
<circle cx="412" cy="58" r="1.1" fill="#111111"/>
<circle cx="419" cy="57.6" r="1.1" fill="#111111"/>
<circle cx="425" cy="58" r="1.1" fill="#111111"/>
<circle cx="430" cy="58.4" r="1.1" fill="#111111"/>
<circle cx="436" cy="56" r="1.1" fill="#111111"/>
<circle cx="442" cy="53.6" r="1.1" fill="#111111"/>
<circle cx="447" cy="53.6" r="1.1" fill="#111111"/>
<circle cx="453" cy="52.4" r="1.1" fill="#111111"/>
<circle cx="458" cy="51.6" r="1.1" fill="#111111"/>
<circle cx="463" cy="49" r="1.1" fill="#111111"/>
<circle cx="468.4" cy="49" r="1.1" fill="#111111"/>
<circle cx="474" cy="50" r="1.1" fill="#111111"/>
<polyline points="316.1,55 324.5,52.8 329,51.6 333,51 339,52 344,51 350,50 355,51 361,52 366,53 372,54 377,55.6 383,54.4 388,54.4 394,52 399,52 405,51 410,46.5 416,44.4 421.6,43 427,42 433,41 438.6,39.6 444,42 449.6,38.4 455,40 460.6,38.4 466.4,36 472,38.4" fill="none" stroke="#10ecec" stroke-width="0.75" stroke-linejoin="round"/>
<circle cx="316.1" cy="55" r="1.1" fill="#10ecec"/>
<circle cx="324.5" cy="52.8" r="1.1" fill="#10ecec"/>
<circle cx="329" cy="51.6" r="1.1" fill="#10ecec"/>
<circle cx="333" cy="51" r="1.1" fill="#10ecec"/>
<circle cx="339" cy="52" r="1.1" fill="#10ecec"/>
<circle cx="344" cy="51" r="1.1" fill="#10ecec"/>
<circle cx="350" cy="50" r="1.1" fill="#10ecec"/>
<circle cx="355" cy="51" r="1.1" fill="#10ecec"/>
<circle cx="361" cy="52" r="1.1" fill="#10ecec"/>
<circle cx="366" cy="53" r="1.1" fill="#10ecec"/>
<circle cx="372" cy="54" r="1.1" fill="#10ecec"/>
<circle cx="377" cy="55.6" r="1.1" fill="#10ecec"/>
<circle cx="383" cy="54.4" r="1.1" fill="#10ecec"/>
<circle cx="388" cy="54.4" r="1.1" fill="#10ecec"/>
<circle cx="394" cy="52" r="1.1" fill="#10ecec"/>
<circle cx="399" cy="52" r="1.1" fill="#10ecec"/>
<circle cx="405" cy="51" r="1.1" fill="#10ecec"/>
<circle cx="410" cy="46.5" r="1.1" fill="#10ecec"/>
<circle cx="416" cy="44.4" r="1.1" fill="#10ecec"/>
<circle cx="421.6" cy="43" r="1.1" fill="#10ecec"/>
<circle cx="427" cy="42" r="1.1" fill="#10ecec"/>
<circle cx="433" cy="41" r="1.1" fill="#10ecec"/>
<circle cx="438.6" cy="39.6" r="1.1" fill="#10ecec"/>
<circle cx="444" cy="42" r="1.1" fill="#10ecec"/>
<circle cx="449.6" cy="38.4" r="1.1" fill="#10ecec"/>
<circle cx="455" cy="40" r="1.1" fill="#10ecec"/>
<circle cx="460.6" cy="38.4" r="1.1" fill="#10ecec"/>
<circle cx="466.4" cy="36" r="1.1" fill="#10ecec"/>
<circle cx="472" cy="38.4" r="1.1" fill="#10ecec"/>
<polyline points="318,54.4 324,62.4 330,62.4 336,62.4 341,63.6 346,65 352,65 357,64.4 363,66 368,67.4 374,66 379,65 385,67 390,65.6 396,66.4 401,68 407,70.4 413,72 419,75 424,75.4 430,80.6 435,82.6 441,79 446,83 452,82 457,82 463,79 468.4,77 474,75.4" fill="none" stroke="#f010f0" stroke-width="0.75" stroke-linejoin="round"/>
<circle cx="318" cy="54.4" r="1.1" fill="#f010f0"/>
<circle cx="324" cy="62.4" r="1.1" fill="#f010f0"/>
<circle cx="330" cy="62.4" r="1.1" fill="#f010f0"/>
<circle cx="336" cy="62.4" r="1.1" fill="#f010f0"/>
<circle cx="341" cy="63.6" r="1.1" fill="#f010f0"/>
<circle cx="346" cy="65" r="1.1" fill="#f010f0"/>
<circle cx="352" cy="65" r="1.1" fill="#f010f0"/>
<circle cx="357" cy="64.4" r="1.1" fill="#f010f0"/>
<circle cx="363" cy="66" r="1.1" fill="#f010f0"/>
<circle cx="368" cy="67.4" r="1.1" fill="#f010f0"/>
<circle cx="374" cy="66" r="1.1" fill="#f010f0"/>
<circle cx="379" cy="65" r="1.1" fill="#f010f0"/>
<circle cx="385" cy="67" r="1.1" fill="#f010f0"/>
<circle cx="390" cy="65.6" r="1.1" fill="#f010f0"/>
<circle cx="396" cy="66.4" r="1.1" fill="#f010f0"/>
<circle cx="401" cy="68" r="1.1" fill="#f010f0"/>
<circle cx="407" cy="70.4" r="1.1" fill="#f010f0"/>
<circle cx="413" cy="72" r="1.1" fill="#f010f0"/>
<circle cx="419" cy="75" r="1.1" fill="#f010f0"/>
<circle cx="424" cy="75.4" r="1.1" fill="#f010f0"/>
<circle cx="430" cy="80.6" r="1.1" fill="#f010f0"/>
<circle cx="435" cy="82.6" r="1.1" fill="#f010f0"/>
<circle cx="441" cy="79" r="1.1" fill="#f010f0"/>
<circle cx="446" cy="83" r="1.1" fill="#f010f0"/>
<circle cx="452" cy="82" r="1.1" fill="#f010f0"/>
<circle cx="457" cy="82" r="1.1" fill="#f010f0"/>
<circle cx="463" cy="79" r="1.1" fill="#f010f0"/>
<circle cx="468.4" cy="77" r="1.1" fill="#f010f0"/>
<circle cx="474" cy="75.4" r="1.1" fill="#f010f0"/>
<rect x="321.58" y="47.87" width="2.15" height="54.83" fill="#0bbff0"/>
<rect x="335.91" y="68.55" width="2.15" height="34.15" fill="#0bbff0"/>
<rect x="350.25" y="69.75" width="2.15" height="32.95" fill="#0bbff0"/>
<rect x="364.12" y="88.75" width="2.15" height="13.95" fill="#0bbff0"/>
<rect x="378.46" y="100.54" width="2.15" height="2.16" fill="#0bbff0"/>
<rect x="392.34" y="102.1" width="2.15" height="0.6" fill="#0bbff0"/>
<rect x="406.68" y="102.1" width="2.15" height="0.6" fill="#0bbff0"/>
<rect x="421.01" y="100.9" width="2.15" height="1.8" fill="#0bbff0"/>
<rect x="433.96" y="95.85" width="2.15" height="6.85" fill="#0bbff0"/>
<rect x="448.3" y="92.6" width="2.15" height="10.1" fill="#0bbff0"/>
<rect x="462.18" y="47.63" width="2.15" height="55.07" fill="#0bbff0"/>
<rect x="476.51" y="63.98" width="2.15" height="38.72" fill="#0bbff0"/>
<rect x="500.6" y="9.3" width="25.2" height="27.75" fill="#fff" stroke="#c8c8c8" stroke-width="0.5"/>
<line x1="501.6" y1="12.4" x2="509.6" y2="12.4" stroke="#111111" stroke-width="0.8"/>
<circle cx="505.6" cy="12.4" r="0.9" fill="#111111"/>
<text x="510.2" y="14" font-size="4.7" fill="#222" stroke="#222" stroke-width="0.05">P4 Desc</text>
<line x1="501.6" y1="17.75" x2="509.6" y2="17.75" stroke="#111111" stroke-width="0.8"/>
<circle cx="505.6" cy="17.75" r="0.9" fill="#111111"/>
<text x="510.2" y="19.35" font-size="4.7" fill="#222" stroke="#222" stroke-width="0.05">P4 Asc</text>
<line x1="501.6" y1="23.1" x2="509.6" y2="23.1" stroke="#10ecec" stroke-width="0.8"/>
<circle cx="505.6" cy="23.1" r="0.9" fill="#10ecec"/>
<text x="510.2" y="24.7" font-size="4.7" fill="#222" stroke="#222" stroke-width="0.05">P5 Desc</text>
<line x1="501.6" y1="28.45" x2="509.6" y2="28.45" stroke="#f010f0" stroke-width="0.8"/>
<circle cx="505.6" cy="28.45" r="0.9" fill="#f010f0"/>
<text x="510.2" y="30.05" font-size="4.7" fill="#222" stroke="#222" stroke-width="0.05">P6 Asc</text>
<rect x="501.6" y="31.7" width="8.0" height="4.2" fill="#0bbff0"/>
<text x="510.2" y="35.4" font-size="4.7" fill="#222" stroke="#222" stroke-width="0.05">Rainfall</text>
</g>
<g id="pc">
<line x1="20.5" y1="136.71" x2="242.2" y2="136.71" stroke="#efefef" stroke-width="0.5"/>
<line x1="20.5" y1="148.72" x2="242.2" y2="148.72" stroke="#efefef" stroke-width="0.5"/>
<line x1="20.5" y1="160.74" x2="242.2" y2="160.74" stroke="#efefef" stroke-width="0.5"/>
<line x1="20.5" y1="172.75" x2="242.2" y2="172.75" stroke="#efefef" stroke-width="0.5"/>
<line x1="20.5" y1="184.76" x2="242.2" y2="184.76" stroke="#efefef" stroke-width="0.5"/>
<line x1="20.5" y1="196.77" x2="242.2" y2="196.77" stroke="#efefef" stroke-width="0.5"/>
<line x1="20.5" y1="208.79" x2="242.2" y2="208.79" stroke="#efefef" stroke-width="0.5"/>
<line x1="20.5" y1="220.8" x2="242.2" y2="220.8" stroke="#efefef" stroke-width="0.5"/>
<line x1="57.8" y1="124.7" x2="57.8" y2="220.8" stroke="#efefef" stroke-width="0.5"/>
<line x1="94.8" y1="124.7" x2="94.8" y2="220.8" stroke="#efefef" stroke-width="0.5"/>
<line x1="131.8" y1="124.7" x2="131.8" y2="220.8" stroke="#efefef" stroke-width="0.5"/>
<line x1="168.8" y1="124.7" x2="168.8" y2="220.8" stroke="#efefef" stroke-width="0.5"/>
<line x1="205.8" y1="124.7" x2="205.8" y2="220.8" stroke="#efefef" stroke-width="0.5"/>
<line x1="26.5" y1="124.7" x2="26.5" y2="139.7" stroke="#a2a2a2" stroke-width="0.9"/>
<line x1="26.5" y1="139.7" x2="26.5" y2="220.8" stroke="#606060" stroke-width="0.8" stroke-dasharray="1 2"/>
<line x1="33" y1="124.7" x2="33" y2="139.7" stroke="#a2a2a2" stroke-width="0.9"/>
<line x1="33" y1="139.7" x2="33" y2="220.8" stroke="#606060" stroke-width="0.8" stroke-dasharray="1 2"/>
<line x1="155.6" y1="124.7" x2="155.6" y2="139.7" stroke="#a2a2a2" stroke-width="0.9"/>
<line x1="155.6" y1="139.7" x2="155.6" y2="220.8" stroke="#606060" stroke-width="0.8" stroke-dasharray="1 2"/>
<line x1="162.4" y1="124.7" x2="162.4" y2="139.7" stroke="#a2a2a2" stroke-width="0.9"/>
<line x1="162.4" y1="139.7" x2="162.4" y2="220.8" stroke="#606060" stroke-width="0.8" stroke-dasharray="1 2"/>
<line x1="169.3" y1="124.7" x2="169.3" y2="139.7" stroke="#a2a2a2" stroke-width="0.9"/>
<line x1="169.3" y1="139.7" x2="169.3" y2="220.8" stroke="#606060" stroke-width="0.8" stroke-dasharray="1 2"/>
<text transform="translate(30.1,219.9) rotate(-90)" x="0" y="1.5" font-size="4.1" textLength="43.8" lengthAdjust="spacingAndGlyphs" fill="#1a1a1a" stroke="#1a1a1a" stroke-width="0.2">Emergency Engineering</text>
<text transform="translate(153.4,220.3) rotate(-90)" x="0" y="1.5" font-size="4.3" textLength="32.5" lengthAdjust="spacingAndGlyphs" fill="#555">Sediment cleaning</text>
<text transform="translate(160.2,220.3) rotate(-90)" x="0" y="1.5" font-size="4.3" textLength="32.5" lengthAdjust="spacingAndGlyphs" fill="#555">Slope protection</text>
<text transform="translate(167.1,220.3) rotate(-90)" x="0" y="1.5" font-size="4.3" textLength="30.5" lengthAdjust="spacingAndGlyphs" fill="#555">Earth backfilling</text>
<line x1="20.5" y1="124.7" x2="20.5" y2="220.8" stroke="#bdbdbd" stroke-width="0.6"/>
<line x1="242.2" y1="124.7" x2="242.2" y2="220.8" stroke="#bdbdbd" stroke-width="0.6"/>
<line x1="20.5" y1="220.8" x2="242.2" y2="220.8" stroke="#bdbdbd" stroke-width="0.7"/>
<line x1="20.5" y1="124.7" x2="21.8" y2="124.7" stroke="#bdbdbd" stroke-width="0.5"/>
<line x1="240.9" y1="124.7" x2="242.2" y2="124.7" stroke="#bdbdbd" stroke-width="0.5"/>
<line x1="20.5" y1="136.71" x2="21.8" y2="136.71" stroke="#bdbdbd" stroke-width="0.5"/>
<line x1="240.9" y1="136.71" x2="242.2" y2="136.71" stroke="#bdbdbd" stroke-width="0.5"/>
<line x1="20.5" y1="148.72" x2="21.8" y2="148.72" stroke="#bdbdbd" stroke-width="0.5"/>
<line x1="240.9" y1="148.72" x2="242.2" y2="148.72" stroke="#bdbdbd" stroke-width="0.5"/>
<line x1="20.5" y1="160.74" x2="21.8" y2="160.74" stroke="#bdbdbd" stroke-width="0.5"/>
<line x1="240.9" y1="160.74" x2="242.2" y2="160.74" stroke="#bdbdbd" stroke-width="0.5"/>
<line x1="20.5" y1="172.75" x2="21.8" y2="172.75" stroke="#bdbdbd" stroke-width="0.5"/>
<line x1="240.9" y1="172.75" x2="242.2" y2="172.75" stroke="#bdbdbd" stroke-width="0.5"/>
<line x1="20.5" y1="184.76" x2="21.8" y2="184.76" stroke="#bdbdbd" stroke-width="0.5"/>
<line x1="240.9" y1="184.76" x2="242.2" y2="184.76" stroke="#bdbdbd" stroke-width="0.5"/>
<line x1="20.5" y1="196.77" x2="21.8" y2="196.77" stroke="#bdbdbd" stroke-width="0.5"/>
<line x1="240.9" y1="196.77" x2="242.2" y2="196.77" stroke="#bdbdbd" stroke-width="0.5"/>
<line x1="20.5" y1="208.79" x2="21.8" y2="208.79" stroke="#bdbdbd" stroke-width="0.5"/>
<line x1="240.9" y1="208.79" x2="242.2" y2="208.79" stroke="#bdbdbd" stroke-width="0.5"/>
<line x1="20.5" y1="220.8" x2="21.8" y2="220.8" stroke="#bdbdbd" stroke-width="0.5"/>
<line x1="240.9" y1="220.8" x2="242.2" y2="220.8" stroke="#bdbdbd" stroke-width="0.5"/>
<line x1="57.8" y1="219.5" x2="57.8" y2="220.8" stroke="#bdbdbd" stroke-width="0.5"/>
<line x1="57.8" y1="124.7" x2="57.8" y2="126.2" stroke="#bdbdbd" stroke-width="0.5"/>
<line x1="94.8" y1="219.5" x2="94.8" y2="220.8" stroke="#bdbdbd" stroke-width="0.5"/>
<line x1="94.8" y1="124.7" x2="94.8" y2="126.2" stroke="#bdbdbd" stroke-width="0.5"/>
<line x1="131.8" y1="219.5" x2="131.8" y2="220.8" stroke="#bdbdbd" stroke-width="0.5"/>
<line x1="131.8" y1="124.7" x2="131.8" y2="126.2" stroke="#bdbdbd" stroke-width="0.5"/>
<line x1="168.8" y1="219.5" x2="168.8" y2="220.8" stroke="#bdbdbd" stroke-width="0.5"/>
<line x1="168.8" y1="124.7" x2="168.8" y2="126.2" stroke="#bdbdbd" stroke-width="0.5"/>
<line x1="205.8" y1="219.5" x2="205.8" y2="220.8" stroke="#bdbdbd" stroke-width="0.5"/>
<line x1="205.8" y1="124.7" x2="205.8" y2="126.2" stroke="#bdbdbd" stroke-width="0.5"/>
<text x="19.1" y="126.5" font-size="5.2" text-anchor="end" fill="#000" stroke="#000" stroke-width="0.07">200</text>
<text x="244.4" y="126.5" font-size="5.2" fill="#000" stroke="#000" stroke-width="0.07">400</text>
<text x="19.1" y="138.51" font-size="5.2" text-anchor="end" fill="#000" stroke="#000" stroke-width="0.07">150</text>
<text x="244.4" y="138.51" font-size="5.2" fill="#000" stroke="#000" stroke-width="0.07">350</text>
<text x="19.1" y="150.53" font-size="5.2" text-anchor="end" fill="#000" stroke="#000" stroke-width="0.07">100</text>
<text x="244.4" y="150.53" font-size="5.2" fill="#000" stroke="#000" stroke-width="0.07">300</text>
<text x="19.1" y="162.54" font-size="5.2" text-anchor="end" fill="#000" stroke="#000" stroke-width="0.07">50</text>
<text x="244.4" y="162.54" font-size="5.2" fill="#000" stroke="#000" stroke-width="0.07">250</text>
<text x="19.1" y="174.55" font-size="5.2" text-anchor="end" fill="#000" stroke="#000" stroke-width="0.07">0</text>
<text x="244.4" y="174.55" font-size="5.2" fill="#000" stroke="#000" stroke-width="0.07">200</text>
<text x="19.1" y="186.56" font-size="5.2" text-anchor="end" fill="#000" stroke="#000" stroke-width="0.07">-50</text>
<text x="244.4" y="186.56" font-size="5.2" fill="#000" stroke="#000" stroke-width="0.07">150</text>
<text x="19.1" y="198.57" font-size="5.2" text-anchor="end" fill="#000" stroke="#000" stroke-width="0.07">-100</text>
<text x="244.4" y="198.57" font-size="5.2" fill="#000" stroke="#000" stroke-width="0.07">100</text>
<text x="19.1" y="210.59" font-size="5.2" text-anchor="end" fill="#000" stroke="#000" stroke-width="0.07">-150</text>
<text x="244.4" y="210.59" font-size="5.2" fill="#000" stroke="#000" stroke-width="0.07">50</text>
<text x="19.1" y="222.6" font-size="5.2" text-anchor="end" fill="#000" stroke="#000" stroke-width="0.07">-200</text>
<text x="244.4" y="222.6" font-size="5.2" fill="#000" stroke="#000" stroke-width="0.07">0</text>
<text x="57.8" y="227.5" font-size="5.3" text-anchor="middle" fill="#000" stroke="#000" stroke-width="0.07">31/08/2020</text>
<text x="94.8" y="227.5" font-size="5.3" text-anchor="middle" fill="#000" stroke="#000" stroke-width="0.07">19/11/2020</text>
<text x="131.8" y="227.5" font-size="5.3" text-anchor="middle" fill="#000" stroke="#000" stroke-width="0.07">07/02/2021</text>
<text x="168.8" y="227.5" font-size="5.3" text-anchor="middle" fill="#000" stroke="#000" stroke-width="0.07">28/04/2021</text>
<text x="205.8" y="227.5" font-size="5.3" text-anchor="middle" fill="#000" stroke="#000" stroke-width="0.07">17/07/2021</text>
<text transform="translate(8,172.6) rotate(-90)" x="0" y="0" font-size="5.8" font-weight="bold" text-anchor="middle" textLength="48.2" lengthAdjust="spacingAndGlyphs" fill="#111" stroke="#111" stroke-width="0.2">Displacement (mm)</text>
<text transform="translate(257.9,172.25) rotate(-90)" x="0" y="0" font-size="5.6" font-weight="bold" text-anchor="middle" textLength="68.3" lengthAdjust="spacingAndGlyphs" fill="#111" stroke="#111" stroke-width="0.2">Monthly Precipitation (mm)</text>
<text x="34.1" y="131.6" font-size="6.6" font-weight="bold" fill="#111" stroke="#111" stroke-width="0.2">(c)</text>
<polyline points="29,173 38,176 44,173 49,171 54,170.4 60,173 69,176 76,177 84,179 91,182 97,182 102,182 108,184 113,185.6 119,187.6 124,186 129,188.6 135,191 141,193.6 146,192.4 152,191.6 157,190.6 163,189 169,188.6 174,184.6 179.6,183 185,188.6" fill="none" stroke="#f0e400" stroke-width="0.75" stroke-linejoin="round"/>
<circle cx="29" cy="173" r="1.1" fill="#f0e400"/>
<circle cx="38" cy="176" r="1.1" fill="#f0e400"/>
<circle cx="44" cy="173" r="1.1" fill="#f0e400"/>
<circle cx="49" cy="171" r="1.1" fill="#f0e400"/>
<circle cx="54" cy="170.4" r="1.1" fill="#f0e400"/>
<circle cx="60" cy="173" r="1.1" fill="#f0e400"/>
<circle cx="69" cy="176" r="1.1" fill="#f0e400"/>
<circle cx="76" cy="177" r="1.1" fill="#f0e400"/>
<circle cx="84" cy="179" r="1.1" fill="#f0e400"/>
<circle cx="91" cy="182" r="1.1" fill="#f0e400"/>
<circle cx="97" cy="182" r="1.1" fill="#f0e400"/>
<circle cx="102" cy="182" r="1.1" fill="#f0e400"/>
<circle cx="108" cy="184" r="1.1" fill="#f0e400"/>
<circle cx="113" cy="185.6" r="1.1" fill="#f0e400"/>
<circle cx="119" cy="187.6" r="1.1" fill="#f0e400"/>
<circle cx="124" cy="186" r="1.1" fill="#f0e400"/>
<circle cx="129" cy="188.6" r="1.1" fill="#f0e400"/>
<circle cx="135" cy="191" r="1.1" fill="#f0e400"/>
<circle cx="141" cy="193.6" r="1.1" fill="#f0e400"/>
<circle cx="146" cy="192.4" r="1.1" fill="#f0e400"/>
<circle cx="152" cy="191.6" r="1.1" fill="#f0e400"/>
<circle cx="157" cy="190.6" r="1.1" fill="#f0e400"/>
<circle cx="163" cy="189" r="1.1" fill="#f0e400"/>
<circle cx="169" cy="188.6" r="1.1" fill="#f0e400"/>
<circle cx="174" cy="184.6" r="1.1" fill="#f0e400"/>
<circle cx="179.6" cy="183" r="1.1" fill="#f0e400"/>
<circle cx="185" cy="188.6" r="1.1" fill="#f0e400"/>
<polyline points="29,173 35,172.6 40,172.4 49,172 54,172.5 60,173 69,175.6 78,174 83,172.8 88,171.6 93,171.6 102,171 110,170 115,170.3 120,170.6 127,171.4 132,169 138,167.6 143.6,170 149,166.6 154.4,165 160,162.6 165.6,160.6 171,161 176.6,159 182,156.6 187.6,156" fill="none" stroke="#fbdc00" stroke-width="0.75" stroke-linejoin="round"/>
<circle cx="29" cy="173" r="1.1" fill="#fbdc00"/>
<circle cx="35" cy="172.6" r="1.1" fill="#fbdc00"/>
<circle cx="40" cy="172.4" r="1.1" fill="#fbdc00"/>
<circle cx="49" cy="172" r="1.1" fill="#fbdc00"/>
<circle cx="54" cy="172.5" r="1.1" fill="#fbdc00"/>
<circle cx="60" cy="173" r="1.1" fill="#fbdc00"/>
<circle cx="69" cy="175.6" r="1.1" fill="#fbdc00"/>
<circle cx="78" cy="174" r="1.1" fill="#fbdc00"/>
<circle cx="83" cy="172.8" r="1.1" fill="#fbdc00"/>
<circle cx="88" cy="171.6" r="1.1" fill="#fbdc00"/>
<circle cx="93" cy="171.6" r="1.1" fill="#fbdc00"/>
<circle cx="102" cy="171" r="1.1" fill="#fbdc00"/>
<circle cx="110" cy="170" r="1.1" fill="#fbdc00"/>
<circle cx="115" cy="170.3" r="1.1" fill="#fbdc00"/>
<circle cx="120" cy="170.6" r="1.1" fill="#fbdc00"/>
<circle cx="127" cy="171.4" r="1.1" fill="#fbdc00"/>
<circle cx="132" cy="169" r="1.1" fill="#fbdc00"/>
<circle cx="138" cy="167.6" r="1.1" fill="#fbdc00"/>
<circle cx="143.6" cy="170" r="1.1" fill="#fbdc00"/>
<circle cx="149" cy="166.6" r="1.1" fill="#fbdc00"/>
<circle cx="154.4" cy="165" r="1.1" fill="#fbdc00"/>
<circle cx="160" cy="162.6" r="1.1" fill="#fbdc00"/>
<circle cx="165.6" cy="160.6" r="1.1" fill="#fbdc00"/>
<circle cx="171" cy="161" r="1.1" fill="#fbdc00"/>
<circle cx="176.6" cy="159" r="1.1" fill="#fbdc00"/>
<circle cx="182" cy="156.6" r="1.1" fill="#fbdc00"/>
<circle cx="187.6" cy="156" r="1.1" fill="#fbdc00"/>
<polyline points="29,173 35,173.5 41,174 46,175 52,174 57,173.5 63,174.5 69,175 74,174.5 80,173.6 85,173 90,172.4 95,171.5 99,171 104,168 109,163.6 115,162.4 120,164.5 127,162 132,160 138,158 143.6,156 149,154 154.4,153 160,149.4 165.6,148.6 171,145.6 176.6,146.6 182,143.4 187.6,142.6" fill="none" stroke="#f6a42a" stroke-width="0.75" stroke-linejoin="round"/>
<circle cx="29" cy="173" r="1.1" fill="#f6a42a"/>
<circle cx="35" cy="173.5" r="1.1" fill="#f6a42a"/>
<circle cx="41" cy="174" r="1.1" fill="#f6a42a"/>
<circle cx="46" cy="175" r="1.1" fill="#f6a42a"/>
<circle cx="52" cy="174" r="1.1" fill="#f6a42a"/>
<circle cx="57" cy="173.5" r="1.1" fill="#f6a42a"/>
<circle cx="63" cy="174.5" r="1.1" fill="#f6a42a"/>
<circle cx="69" cy="175" r="1.1" fill="#f6a42a"/>
<circle cx="74" cy="174.5" r="1.1" fill="#f6a42a"/>
<circle cx="80" cy="173.6" r="1.1" fill="#f6a42a"/>
<circle cx="85" cy="173" r="1.1" fill="#f6a42a"/>
<circle cx="90" cy="172.4" r="1.1" fill="#f6a42a"/>
<circle cx="95" cy="171.5" r="1.1" fill="#f6a42a"/>
<circle cx="99" cy="171" r="1.1" fill="#f6a42a"/>
<circle cx="104" cy="168" r="1.1" fill="#f6a42a"/>
<circle cx="109" cy="163.6" r="1.1" fill="#f6a42a"/>
<circle cx="115" cy="162.4" r="1.1" fill="#f6a42a"/>
<circle cx="120" cy="164.5" r="1.1" fill="#f6a42a"/>
<circle cx="127" cy="162" r="1.1" fill="#f6a42a"/>
<circle cx="132" cy="160" r="1.1" fill="#f6a42a"/>
<circle cx="138" cy="158" r="1.1" fill="#f6a42a"/>
<circle cx="143.6" cy="156" r="1.1" fill="#f6a42a"/>
<circle cx="149" cy="154" r="1.1" fill="#f6a42a"/>
<circle cx="154.4" cy="153" r="1.1" fill="#f6a42a"/>
<circle cx="160" cy="149.4" r="1.1" fill="#f6a42a"/>
<circle cx="165.6" cy="148.6" r="1.1" fill="#f6a42a"/>
<circle cx="171" cy="145.6" r="1.1" fill="#f6a42a"/>
<circle cx="176.6" cy="146.6" r="1.1" fill="#f6a42a"/>
<circle cx="182" cy="143.4" r="1.1" fill="#f6a42a"/>
<circle cx="187.6" cy="142.6" r="1.1" fill="#f6a42a"/>
<polyline points="29,172.4 38,172 46,175.6 52,174 57,173.6 63,173 69,175 74,168 80,169.6 86,168.4 91,169 97,170 102,171 108,173 113,175 119,175 124,174 130,175 135,176 140,176 146,174 152,169.4 158,169 163,165.4 169,164 174,162 179.6,160.6 185,164" fill="none" stroke="#f07030" stroke-width="0.75" stroke-linejoin="round"/>
<circle cx="29" cy="172.4" r="1.1" fill="#f07030"/>
<circle cx="38" cy="172" r="1.1" fill="#f07030"/>
<circle cx="46" cy="175.6" r="1.1" fill="#f07030"/>
<circle cx="52" cy="174" r="1.1" fill="#f07030"/>
<circle cx="57" cy="173.6" r="1.1" fill="#f07030"/>
<circle cx="63" cy="173" r="1.1" fill="#f07030"/>
<circle cx="69" cy="175" r="1.1" fill="#f07030"/>
<circle cx="74" cy="168" r="1.1" fill="#f07030"/>
<circle cx="80" cy="169.6" r="1.1" fill="#f07030"/>
<circle cx="86" cy="168.4" r="1.1" fill="#f07030"/>
<circle cx="91" cy="169" r="1.1" fill="#f07030"/>
<circle cx="97" cy="170" r="1.1" fill="#f07030"/>
<circle cx="102" cy="171" r="1.1" fill="#f07030"/>
<circle cx="108" cy="173" r="1.1" fill="#f07030"/>
<circle cx="113" cy="175" r="1.1" fill="#f07030"/>
<circle cx="119" cy="175" r="1.1" fill="#f07030"/>
<circle cx="124" cy="174" r="1.1" fill="#f07030"/>
<circle cx="130" cy="175" r="1.1" fill="#f07030"/>
<circle cx="135" cy="176" r="1.1" fill="#f07030"/>
<circle cx="140" cy="176" r="1.1" fill="#f07030"/>
<circle cx="146" cy="174" r="1.1" fill="#f07030"/>
<circle cx="152" cy="169.4" r="1.1" fill="#f07030"/>
<circle cx="158" cy="169" r="1.1" fill="#f07030"/>
<circle cx="163" cy="165.4" r="1.1" fill="#f07030"/>
<circle cx="169" cy="164" r="1.1" fill="#f07030"/>
<circle cx="174" cy="162" r="1.1" fill="#f07030"/>
<circle cx="179.6" cy="160.6" r="1.1" fill="#f07030"/>
<circle cx="185" cy="164" r="1.1" fill="#f07030"/>
<polyline points="29,173 38,172.6 46,175 53,176.4 60,179 65,177 71,183 76,182.4 82,179 87,179 93,178 99,180 104,179 109,178.4 115,177 121,176.4 127,179.4 132,179.4 138,182.6 143.6,186 149,188.6 154.4,190.6 160,192 165.6,191.4 171,193 176.6,190 182,188 187.6,185" fill="none" stroke="#ee6428" stroke-width="0.75" stroke-linejoin="round"/>
<circle cx="29" cy="173" r="1.1" fill="#ee6428"/>
<circle cx="38" cy="172.6" r="1.1" fill="#ee6428"/>
<circle cx="46" cy="175" r="1.1" fill="#ee6428"/>
<circle cx="53" cy="176.4" r="1.1" fill="#ee6428"/>
<circle cx="60" cy="179" r="1.1" fill="#ee6428"/>
<circle cx="65" cy="177" r="1.1" fill="#ee6428"/>
<circle cx="71" cy="183" r="1.1" fill="#ee6428"/>
<circle cx="76" cy="182.4" r="1.1" fill="#ee6428"/>
<circle cx="82" cy="179" r="1.1" fill="#ee6428"/>
<circle cx="87" cy="179" r="1.1" fill="#ee6428"/>
<circle cx="93" cy="178" r="1.1" fill="#ee6428"/>
<circle cx="99" cy="180" r="1.1" fill="#ee6428"/>
<circle cx="104" cy="179" r="1.1" fill="#ee6428"/>
<circle cx="109" cy="178.4" r="1.1" fill="#ee6428"/>
<circle cx="115" cy="177" r="1.1" fill="#ee6428"/>
<circle cx="121" cy="176.4" r="1.1" fill="#ee6428"/>
<circle cx="127" cy="179.4" r="1.1" fill="#ee6428"/>
<circle cx="132" cy="179.4" r="1.1" fill="#ee6428"/>
<circle cx="138" cy="182.6" r="1.1" fill="#ee6428"/>
<circle cx="143.6" cy="186" r="1.1" fill="#ee6428"/>
<circle cx="149" cy="188.6" r="1.1" fill="#ee6428"/>
<circle cx="154.4" cy="190.6" r="1.1" fill="#ee6428"/>
<circle cx="160" cy="192" r="1.1" fill="#ee6428"/>
<circle cx="165.6" cy="191.4" r="1.1" fill="#ee6428"/>
<circle cx="171" cy="193" r="1.1" fill="#ee6428"/>
<circle cx="176.6" cy="190" r="1.1" fill="#ee6428"/>
<circle cx="182" cy="188" r="1.1" fill="#ee6428"/>
<circle cx="187.6" cy="185" r="1.1" fill="#ee6428"/>
<rect x="34.77" y="166.02" width="2.15" height="54.78" fill="#0bbff0"/>
<rect x="49.11" y="186.68" width="2.15" height="34.12" fill="#0bbff0"/>
<rect x="63.45" y="187.89" width="2.15" height="32.91" fill="#0bbff0"/>
<rect x="77.33" y="206.87" width="2.15" height="13.93" fill="#0bbff0"/>
<rect x="91.66" y="218.64" width="2.15" height="2.16" fill="#0bbff0"/>
<rect x="105.54" y="220.2" width="2.15" height="0.6" fill="#0bbff0"/>
<rect x="119.88" y="220.2" width="2.15" height="0.6" fill="#0bbff0"/>
<rect x="134.21" y="219" width="2.15" height="1.8" fill="#0bbff0"/>
<rect x="147.16" y="213.95" width="2.15" height="6.85" fill="#0bbff0"/>
<rect x="161.5" y="210.71" width="2.15" height="10.09" fill="#0bbff0"/>
<rect x="175.38" y="165.78" width="2.15" height="55.02" fill="#0bbff0"/>
<rect x="189.71" y="182.12" width="2.15" height="38.68" fill="#0bbff0"/>
<rect x="214" y="127.6" width="25.8" height="33.1" fill="#fff" stroke="#c8c8c8" stroke-width="0.5"/>
<line x1="215" y1="130.7" x2="223" y2="130.7" stroke="#f0e400" stroke-width="0.8"/>
<circle cx="219" cy="130.7" r="0.9" fill="#f0e400"/>
<text x="223.6" y="132.3" font-size="4.7" fill="#222" stroke="#222" stroke-width="0.05">P7 Desc</text>
<line x1="215" y1="136.05" x2="223" y2="136.05" stroke="#fbdc00" stroke-width="0.8"/>
<circle cx="219" cy="136.05" r="0.9" fill="#fbdc00"/>
<text x="223.6" y="137.65" font-size="4.7" fill="#222" stroke="#222" stroke-width="0.05">P7 Asc</text>
<line x1="215" y1="141.4" x2="223" y2="141.4" stroke="#f6a42a" stroke-width="0.8"/>
<circle cx="219" cy="141.4" r="0.9" fill="#f6a42a"/>
<text x="223.6" y="143" font-size="4.7" fill="#222" stroke="#222" stroke-width="0.05">P8 Asc</text>
<line x1="215" y1="146.75" x2="223" y2="146.75" stroke="#f07030" stroke-width="0.8"/>
<circle cx="219" cy="146.75" r="0.9" fill="#f07030"/>
<text x="223.6" y="148.35" font-size="4.7" fill="#222" stroke="#222" stroke-width="0.05">P9 Desc</text>
<line x1="215" y1="152.1" x2="223" y2="152.1" stroke="#ee6428" stroke-width="0.8"/>
<circle cx="219" cy="152.1" r="0.9" fill="#ee6428"/>
<text x="223.6" y="153.7" font-size="4.7" fill="#222" stroke="#222" stroke-width="0.05">P9 Asc</text>
<rect x="215" y="155.35" width="8.0" height="4.2" fill="#0bbff0"/>
<text x="223.6" y="159.05" font-size="4.7" fill="#222" stroke="#222" stroke-width="0.05">Rainfall</text>
</g>
<g id="pd">
<line x1="307.3" y1="136.71" x2="529" y2="136.71" stroke="#efefef" stroke-width="0.5"/>
<line x1="307.3" y1="148.72" x2="529" y2="148.72" stroke="#efefef" stroke-width="0.5"/>
<line x1="307.3" y1="160.74" x2="529" y2="160.74" stroke="#efefef" stroke-width="0.5"/>
<line x1="307.3" y1="172.75" x2="529" y2="172.75" stroke="#efefef" stroke-width="0.5"/>
<line x1="307.3" y1="184.76" x2="529" y2="184.76" stroke="#efefef" stroke-width="0.5"/>
<line x1="307.3" y1="196.77" x2="529" y2="196.77" stroke="#efefef" stroke-width="0.5"/>
<line x1="307.3" y1="208.79" x2="529" y2="208.79" stroke="#efefef" stroke-width="0.5"/>
<line x1="307.3" y1="220.8" x2="529" y2="220.8" stroke="#efefef" stroke-width="0.5"/>
<line x1="344.6" y1="124.7" x2="344.6" y2="220.8" stroke="#efefef" stroke-width="0.5"/>
<line x1="381.6" y1="124.7" x2="381.6" y2="220.8" stroke="#efefef" stroke-width="0.5"/>
<line x1="418.6" y1="124.7" x2="418.6" y2="220.8" stroke="#efefef" stroke-width="0.5"/>
<line x1="455.6" y1="124.7" x2="455.6" y2="220.8" stroke="#efefef" stroke-width="0.5"/>
<line x1="492.6" y1="124.7" x2="492.6" y2="220.8" stroke="#efefef" stroke-width="0.5"/>
<line x1="313.3" y1="124.7" x2="313.3" y2="139.7" stroke="#a2a2a2" stroke-width="0.9"/>
<line x1="313.3" y1="139.7" x2="313.3" y2="220.8" stroke="#606060" stroke-width="0.8" stroke-dasharray="1 2"/>
<line x1="319.8" y1="124.7" x2="319.8" y2="139.7" stroke="#a2a2a2" stroke-width="0.9"/>
<line x1="319.8" y1="139.7" x2="319.8" y2="220.8" stroke="#606060" stroke-width="0.8" stroke-dasharray="1 2"/>
<line x1="442.4" y1="124.7" x2="442.4" y2="139.7" stroke="#a2a2a2" stroke-width="0.9"/>
<line x1="442.4" y1="139.7" x2="442.4" y2="220.8" stroke="#606060" stroke-width="0.8" stroke-dasharray="1 2"/>
<line x1="449.2" y1="124.7" x2="449.2" y2="139.7" stroke="#a2a2a2" stroke-width="0.9"/>
<line x1="449.2" y1="139.7" x2="449.2" y2="220.8" stroke="#606060" stroke-width="0.8" stroke-dasharray="1 2"/>
<line x1="456.1" y1="124.7" x2="456.1" y2="139.7" stroke="#a2a2a2" stroke-width="0.9"/>
<line x1="456.1" y1="139.7" x2="456.1" y2="220.8" stroke="#606060" stroke-width="0.8" stroke-dasharray="1 2"/>
<text transform="translate(316.9,219.9) rotate(-90)" x="0" y="1.5" font-size="4.1" textLength="43.8" lengthAdjust="spacingAndGlyphs" fill="#1a1a1a" stroke="#1a1a1a" stroke-width="0.2">Emergency Engineering</text>
<text transform="translate(440.2,220.3) rotate(-90)" x="0" y="1.5" font-size="4.3" textLength="32.5" lengthAdjust="spacingAndGlyphs" fill="#555">Sediment cleaning</text>
<text transform="translate(447,220.3) rotate(-90)" x="0" y="1.5" font-size="4.3" textLength="32.5" lengthAdjust="spacingAndGlyphs" fill="#555">Slope protection</text>
<text transform="translate(453.9,220.3) rotate(-90)" x="0" y="1.5" font-size="4.3" textLength="30.5" lengthAdjust="spacingAndGlyphs" fill="#555">Earth backfilling</text>
<line x1="307.3" y1="124.7" x2="307.3" y2="220.8" stroke="#bdbdbd" stroke-width="0.6"/>
<line x1="529" y1="124.7" x2="529" y2="220.8" stroke="#bdbdbd" stroke-width="0.6"/>
<line x1="307.3" y1="220.8" x2="529" y2="220.8" stroke="#bdbdbd" stroke-width="0.7"/>
<line x1="307.3" y1="124.7" x2="308.6" y2="124.7" stroke="#bdbdbd" stroke-width="0.5"/>
<line x1="527.7" y1="124.7" x2="529" y2="124.7" stroke="#bdbdbd" stroke-width="0.5"/>
<line x1="307.3" y1="136.71" x2="308.6" y2="136.71" stroke="#bdbdbd" stroke-width="0.5"/>
<line x1="527.7" y1="136.71" x2="529" y2="136.71" stroke="#bdbdbd" stroke-width="0.5"/>
<line x1="307.3" y1="148.72" x2="308.6" y2="148.72" stroke="#bdbdbd" stroke-width="0.5"/>
<line x1="527.7" y1="148.72" x2="529" y2="148.72" stroke="#bdbdbd" stroke-width="0.5"/>
<line x1="307.3" y1="160.74" x2="308.6" y2="160.74" stroke="#bdbdbd" stroke-width="0.5"/>
<line x1="527.7" y1="160.74" x2="529" y2="160.74" stroke="#bdbdbd" stroke-width="0.5"/>
<line x1="307.3" y1="172.75" x2="308.6" y2="172.75" stroke="#bdbdbd" stroke-width="0.5"/>
<line x1="527.7" y1="172.75" x2="529" y2="172.75" stroke="#bdbdbd" stroke-width="0.5"/>
<line x1="307.3" y1="184.76" x2="308.6" y2="184.76" stroke="#bdbdbd" stroke-width="0.5"/>
<line x1="527.7" y1="184.76" x2="529" y2="184.76" stroke="#bdbdbd" stroke-width="0.5"/>
<line x1="307.3" y1="196.77" x2="308.6" y2="196.77" stroke="#bdbdbd" stroke-width="0.5"/>
<line x1="527.7" y1="196.77" x2="529" y2="196.77" stroke="#bdbdbd" stroke-width="0.5"/>
<line x1="307.3" y1="208.79" x2="308.6" y2="208.79" stroke="#bdbdbd" stroke-width="0.5"/>
<line x1="527.7" y1="208.79" x2="529" y2="208.79" stroke="#bdbdbd" stroke-width="0.5"/>
<line x1="307.3" y1="220.8" x2="308.6" y2="220.8" stroke="#bdbdbd" stroke-width="0.5"/>
<line x1="527.7" y1="220.8" x2="529" y2="220.8" stroke="#bdbdbd" stroke-width="0.5"/>
<line x1="344.6" y1="219.5" x2="344.6" y2="220.8" stroke="#bdbdbd" stroke-width="0.5"/>
<line x1="344.6" y1="124.7" x2="344.6" y2="126.2" stroke="#bdbdbd" stroke-width="0.5"/>
<line x1="381.6" y1="219.5" x2="381.6" y2="220.8" stroke="#bdbdbd" stroke-width="0.5"/>
<line x1="381.6" y1="124.7" x2="381.6" y2="126.2" stroke="#bdbdbd" stroke-width="0.5"/>
<line x1="418.6" y1="219.5" x2="418.6" y2="220.8" stroke="#bdbdbd" stroke-width="0.5"/>
<line x1="418.6" y1="124.7" x2="418.6" y2="126.2" stroke="#bdbdbd" stroke-width="0.5"/>
<line x1="455.6" y1="219.5" x2="455.6" y2="220.8" stroke="#bdbdbd" stroke-width="0.5"/>
<line x1="455.6" y1="124.7" x2="455.6" y2="126.2" stroke="#bdbdbd" stroke-width="0.5"/>
<line x1="492.6" y1="219.5" x2="492.6" y2="220.8" stroke="#bdbdbd" stroke-width="0.5"/>
<line x1="492.6" y1="124.7" x2="492.6" y2="126.2" stroke="#bdbdbd" stroke-width="0.5"/>
<text x="305.9" y="126.5" font-size="5.2" text-anchor="end" fill="#000" stroke="#000" stroke-width="0.07">200</text>
<text x="531.2" y="126.5" font-size="5.2" fill="#000" stroke="#000" stroke-width="0.07">400</text>
<text x="305.9" y="138.51" font-size="5.2" text-anchor="end" fill="#000" stroke="#000" stroke-width="0.07">150</text>
<text x="531.2" y="138.51" font-size="5.2" fill="#000" stroke="#000" stroke-width="0.07">350</text>
<text x="305.9" y="150.53" font-size="5.2" text-anchor="end" fill="#000" stroke="#000" stroke-width="0.07">100</text>
<text x="531.2" y="150.53" font-size="5.2" fill="#000" stroke="#000" stroke-width="0.07">300</text>
<text x="305.9" y="162.54" font-size="5.2" text-anchor="end" fill="#000" stroke="#000" stroke-width="0.07">50</text>
<text x="531.2" y="162.54" font-size="5.2" fill="#000" stroke="#000" stroke-width="0.07">250</text>
<text x="305.9" y="174.55" font-size="5.2" text-anchor="end" fill="#000" stroke="#000" stroke-width="0.07">0</text>
<text x="531.2" y="174.55" font-size="5.2" fill="#000" stroke="#000" stroke-width="0.07">200</text>
<text x="305.9" y="186.56" font-size="5.2" text-anchor="end" fill="#000" stroke="#000" stroke-width="0.07">-50</text>
<text x="531.2" y="186.56" font-size="5.2" fill="#000" stroke="#000" stroke-width="0.07">150</text>
<text x="305.9" y="198.57" font-size="5.2" text-anchor="end" fill="#000" stroke="#000" stroke-width="0.07">-100</text>
<text x="531.2" y="198.57" font-size="5.2" fill="#000" stroke="#000" stroke-width="0.07">100</text>
<text x="305.9" y="210.59" font-size="5.2" text-anchor="end" fill="#000" stroke="#000" stroke-width="0.07">-150</text>
<text x="531.2" y="210.59" font-size="5.2" fill="#000" stroke="#000" stroke-width="0.07">50</text>
<text x="305.9" y="222.6" font-size="5.2" text-anchor="end" fill="#000" stroke="#000" stroke-width="0.07">-200</text>
<text x="531.2" y="222.6" font-size="5.2" fill="#000" stroke="#000" stroke-width="0.07">0</text>
<text x="344.6" y="227.5" font-size="5.3" text-anchor="middle" fill="#000" stroke="#000" stroke-width="0.07">31/08/2020</text>
<text x="381.6" y="227.5" font-size="5.3" text-anchor="middle" fill="#000" stroke="#000" stroke-width="0.07">19/11/2020</text>
<text x="418.6" y="227.5" font-size="5.3" text-anchor="middle" fill="#000" stroke="#000" stroke-width="0.07">07/02/2021</text>
<text x="455.6" y="227.5" font-size="5.3" text-anchor="middle" fill="#000" stroke="#000" stroke-width="0.07">28/04/2021</text>
<text x="492.6" y="227.5" font-size="5.3" text-anchor="middle" fill="#000" stroke="#000" stroke-width="0.07">17/07/2021</text>
<text transform="translate(294.8,172.6) rotate(-90)" x="0" y="0" font-size="5.8" font-weight="bold" text-anchor="middle" textLength="48.2" lengthAdjust="spacingAndGlyphs" fill="#111" stroke="#111" stroke-width="0.2">Displacement (mm)</text>
<text transform="translate(544.7,172.25) rotate(-90)" x="0" y="0" font-size="5.6" font-weight="bold" text-anchor="middle" textLength="68.3" lengthAdjust="spacingAndGlyphs" fill="#111" stroke="#111" stroke-width="0.2">Monthly Precipitation (mm)</text>
<text x="320.9" y="131.6" font-size="6.6" font-weight="bold" fill="#111" stroke="#111" stroke-width="0.2">(d)</text>
<polyline points="316,172.4 322,174 328,170 335,165 340,167 346,168.4 352,174 357,176 363,176 369,175 374,175 379.4,178.4 385,178 391,180 396,181.6 402,186 407,185 413,184 418.6,186.4 424,186.4 429.6,185.6 435,187.4 440.6,189 446,189.4 451.4,190.6 457,189 462.6,190.6 468,187 472,186 474.6,189.4" fill="none" stroke="#7a2d9a" stroke-width="0.75" stroke-linejoin="round"/>
<circle cx="316" cy="172.4" r="1.1" fill="#7a2d9a"/>
<circle cx="322" cy="174" r="1.1" fill="#7a2d9a"/>
<circle cx="328" cy="170" r="1.1" fill="#7a2d9a"/>
<circle cx="335" cy="165" r="1.1" fill="#7a2d9a"/>
<circle cx="340" cy="167" r="1.1" fill="#7a2d9a"/>
<circle cx="346" cy="168.4" r="1.1" fill="#7a2d9a"/>
<circle cx="352" cy="174" r="1.1" fill="#7a2d9a"/>
<circle cx="357" cy="176" r="1.1" fill="#7a2d9a"/>
<circle cx="363" cy="176" r="1.1" fill="#7a2d9a"/>
<circle cx="369" cy="175" r="1.1" fill="#7a2d9a"/>
<circle cx="374" cy="175" r="1.1" fill="#7a2d9a"/>
<circle cx="379.4" cy="178.4" r="1.1" fill="#7a2d9a"/>
<circle cx="385" cy="178" r="1.1" fill="#7a2d9a"/>
<circle cx="391" cy="180" r="1.1" fill="#7a2d9a"/>
<circle cx="396" cy="181.6" r="1.1" fill="#7a2d9a"/>
<circle cx="402" cy="186" r="1.1" fill="#7a2d9a"/>
<circle cx="407" cy="185" r="1.1" fill="#7a2d9a"/>
<circle cx="413" cy="184" r="1.1" fill="#7a2d9a"/>
<circle cx="418.6" cy="186.4" r="1.1" fill="#7a2d9a"/>
<circle cx="424" cy="186.4" r="1.1" fill="#7a2d9a"/>
<circle cx="429.6" cy="185.6" r="1.1" fill="#7a2d9a"/>
<circle cx="435" cy="187.4" r="1.1" fill="#7a2d9a"/>
<circle cx="440.6" cy="189" r="1.1" fill="#7a2d9a"/>
<circle cx="446" cy="189.4" r="1.1" fill="#7a2d9a"/>
<circle cx="451.4" cy="190.6" r="1.1" fill="#7a2d9a"/>
<circle cx="457" cy="189" r="1.1" fill="#7a2d9a"/>
<circle cx="462.6" cy="190.6" r="1.1" fill="#7a2d9a"/>
<circle cx="468" cy="187" r="1.1" fill="#7a2d9a"/>
<circle cx="472" cy="186" r="1.1" fill="#7a2d9a"/>
<circle cx="474.6" cy="189.4" r="1.1" fill="#7a2d9a"/>
<polyline points="316,172.4 322,175 327,176.4 333,179 339,179.6 344,185 350,182.4 355,189.6 361,181 366.6,188 372,186.4 378,187 383.4,189 389,187.6 394.4,191 400,191.6 405.6,191.6 411,191 416.6,190.6 422,190.6 427,193.4 432.6,191 438.6,190.4 444,189 449.4,191.6 455,190 460.6,191 466,188 471.4,186.6" fill="none" stroke="#9a3aa6" stroke-width="0.75" stroke-linejoin="round"/>
<circle cx="316" cy="172.4" r="1.1" fill="#9a3aa6"/>
<circle cx="322" cy="175" r="1.1" fill="#9a3aa6"/>
<circle cx="327" cy="176.4" r="1.1" fill="#9a3aa6"/>
<circle cx="333" cy="179" r="1.1" fill="#9a3aa6"/>
<circle cx="339" cy="179.6" r="1.1" fill="#9a3aa6"/>
<circle cx="344" cy="185" r="1.1" fill="#9a3aa6"/>
<circle cx="350" cy="182.4" r="1.1" fill="#9a3aa6"/>
<circle cx="355" cy="189.6" r="1.1" fill="#9a3aa6"/>
<circle cx="361" cy="181" r="1.1" fill="#9a3aa6"/>
<circle cx="366.6" cy="188" r="1.1" fill="#9a3aa6"/>
<circle cx="372" cy="186.4" r="1.1" fill="#9a3aa6"/>
<circle cx="378" cy="187" r="1.1" fill="#9a3aa6"/>
<circle cx="383.4" cy="189" r="1.1" fill="#9a3aa6"/>
<circle cx="389" cy="187.6" r="1.1" fill="#9a3aa6"/>
<circle cx="394.4" cy="191" r="1.1" fill="#9a3aa6"/>
<circle cx="400" cy="191.6" r="1.1" fill="#9a3aa6"/>
<circle cx="405.6" cy="191.6" r="1.1" fill="#9a3aa6"/>
<circle cx="411" cy="191" r="1.1" fill="#9a3aa6"/>
<circle cx="416.6" cy="190.6" r="1.1" fill="#9a3aa6"/>
<circle cx="422" cy="190.6" r="1.1" fill="#9a3aa6"/>
<circle cx="427" cy="193.4" r="1.1" fill="#9a3aa6"/>
<circle cx="432.6" cy="191" r="1.1" fill="#9a3aa6"/>
<circle cx="438.6" cy="190.4" r="1.1" fill="#9a3aa6"/>
<circle cx="444" cy="189" r="1.1" fill="#9a3aa6"/>
<circle cx="449.4" cy="191.6" r="1.1" fill="#9a3aa6"/>
<circle cx="455" cy="190" r="1.1" fill="#9a3aa6"/>
<circle cx="460.6" cy="191" r="1.1" fill="#9a3aa6"/>
<circle cx="466" cy="188" r="1.1" fill="#9a3aa6"/>
<circle cx="471.4" cy="186.6" r="1.1" fill="#9a3aa6"/>
<polyline points="316,172.4 322,173 328,168 334,170 340,171.6 346,173 352,174 358,175 363,176.6 369,175 374,172.4 380,171 385,169.6 391,164 396,163.6 401,162.4 407,161 413,159 418.6,158 424,156.6 429.6,156 435,155.6 440.6,155 446.4,152 452,155 457.4,152 463,152.6 468.6,148 474,146.6" fill="none" stroke="#6aac36" stroke-width="0.75" stroke-linejoin="round"/>
<circle cx="316" cy="172.4" r="1.1" fill="#6aac36"/>
<circle cx="322" cy="173" r="1.1" fill="#6aac36"/>
<circle cx="328" cy="168" r="1.1" fill="#6aac36"/>
<circle cx="334" cy="170" r="1.1" fill="#6aac36"/>
<circle cx="340" cy="171.6" r="1.1" fill="#6aac36"/>
<circle cx="346" cy="173" r="1.1" fill="#6aac36"/>
<circle cx="352" cy="174" r="1.1" fill="#6aac36"/>
<circle cx="358" cy="175" r="1.1" fill="#6aac36"/>
<circle cx="363" cy="176.6" r="1.1" fill="#6aac36"/>
<circle cx="369" cy="175" r="1.1" fill="#6aac36"/>
<circle cx="374" cy="172.4" r="1.1" fill="#6aac36"/>
<circle cx="380" cy="171" r="1.1" fill="#6aac36"/>
<circle cx="385" cy="169.6" r="1.1" fill="#6aac36"/>
<circle cx="391" cy="164" r="1.1" fill="#6aac36"/>
<circle cx="396" cy="163.6" r="1.1" fill="#6aac36"/>
<circle cx="401" cy="162.4" r="1.1" fill="#6aac36"/>
<circle cx="407" cy="161" r="1.1" fill="#6aac36"/>
<circle cx="413" cy="159" r="1.1" fill="#6aac36"/>
<circle cx="418.6" cy="158" r="1.1" fill="#6aac36"/>
<circle cx="424" cy="156.6" r="1.1" fill="#6aac36"/>
<circle cx="429.6" cy="156" r="1.1" fill="#6aac36"/>
<circle cx="435" cy="155.6" r="1.1" fill="#6aac36"/>
<circle cx="440.6" cy="155" r="1.1" fill="#6aac36"/>
<circle cx="446.4" cy="152" r="1.1" fill="#6aac36"/>
<circle cx="452" cy="155" r="1.1" fill="#6aac36"/>
<circle cx="457.4" cy="152" r="1.1" fill="#6aac36"/>
<circle cx="463" cy="152.6" r="1.1" fill="#6aac36"/>
<circle cx="468.6" cy="148" r="1.1" fill="#6aac36"/>
<circle cx="474" cy="146.6" r="1.1" fill="#6aac36"/>
<polyline points="316,172.4 322,174 328,171.5 333,170 341,172.4 346,173.5 352,174 356,172 361,170.4 367,174 373,172 380,168 387,167 394,173 400,170 405,167.6 411,165.6 416,167 422,166 427,166 433,164 438.6,163.4 444,160 449.4,162 455,159.4 460.6,159 466,156 472,160" fill="none" stroke="#5aa02a" stroke-width="0.75" stroke-linejoin="round"/>
<circle cx="316" cy="172.4" r="1.1" fill="#5aa02a"/>
<circle cx="322" cy="174" r="1.1" fill="#5aa02a"/>
<circle cx="328" cy="171.5" r="1.1" fill="#5aa02a"/>
<circle cx="333" cy="170" r="1.1" fill="#5aa02a"/>
<circle cx="341" cy="172.4" r="1.1" fill="#5aa02a"/>
<circle cx="346" cy="173.5" r="1.1" fill="#5aa02a"/>
<circle cx="352" cy="174" r="1.1" fill="#5aa02a"/>
<circle cx="356" cy="172" r="1.1" fill="#5aa02a"/>
<circle cx="361" cy="170.4" r="1.1" fill="#5aa02a"/>
<circle cx="367" cy="174" r="1.1" fill="#5aa02a"/>
<circle cx="373" cy="172" r="1.1" fill="#5aa02a"/>
<circle cx="380" cy="168" r="1.1" fill="#5aa02a"/>
<circle cx="387" cy="167" r="1.1" fill="#5aa02a"/>
<circle cx="394" cy="173" r="1.1" fill="#5aa02a"/>
<circle cx="400" cy="170" r="1.1" fill="#5aa02a"/>
<circle cx="405" cy="167.6" r="1.1" fill="#5aa02a"/>
<circle cx="411" cy="165.6" r="1.1" fill="#5aa02a"/>
<circle cx="416" cy="167" r="1.1" fill="#5aa02a"/>
<circle cx="422" cy="166" r="1.1" fill="#5aa02a"/>
<circle cx="427" cy="166" r="1.1" fill="#5aa02a"/>
<circle cx="433" cy="164" r="1.1" fill="#5aa02a"/>
<circle cx="438.6" cy="163.4" r="1.1" fill="#5aa02a"/>
<circle cx="444" cy="160" r="1.1" fill="#5aa02a"/>
<circle cx="449.4" cy="162" r="1.1" fill="#5aa02a"/>
<circle cx="455" cy="159.4" r="1.1" fill="#5aa02a"/>
<circle cx="460.6" cy="159" r="1.1" fill="#5aa02a"/>
<circle cx="466" cy="156" r="1.1" fill="#5aa02a"/>
<circle cx="472" cy="160" r="1.1" fill="#5aa02a"/>
<polyline points="316,172.4 322,174 328,168 335,161.6 340.6,160 346,167 352,162 357.4,165 363,162 368.6,159 374,155.6 379.4,153 385,148.4 390.6,147 396,145 402,145.6 407,143 413,140.6 418.6,141 424,139.4 429.6,139.6 435,138 440.6,138.6 446.4,136.6 452,138 457.4,136 463,135.4 468.6,132 474,133" fill="none" stroke="#36bcee" stroke-width="0.75" stroke-linejoin="round"/>
<circle cx="316" cy="172.4" r="1.1" fill="#36bcee"/>
<circle cx="322" cy="174" r="1.1" fill="#36bcee"/>
<circle cx="328" cy="168" r="1.1" fill="#36bcee"/>
<circle cx="335" cy="161.6" r="1.1" fill="#36bcee"/>
<circle cx="340.6" cy="160" r="1.1" fill="#36bcee"/>
<circle cx="346" cy="167" r="1.1" fill="#36bcee"/>
<circle cx="352" cy="162" r="1.1" fill="#36bcee"/>
<circle cx="357.4" cy="165" r="1.1" fill="#36bcee"/>
<circle cx="363" cy="162" r="1.1" fill="#36bcee"/>
<circle cx="368.6" cy="159" r="1.1" fill="#36bcee"/>
<circle cx="374" cy="155.6" r="1.1" fill="#36bcee"/>
<circle cx="379.4" cy="153" r="1.1" fill="#36bcee"/>
<circle cx="385" cy="148.4" r="1.1" fill="#36bcee"/>
<circle cx="390.6" cy="147" r="1.1" fill="#36bcee"/>
<circle cx="396" cy="145" r="1.1" fill="#36bcee"/>
<circle cx="402" cy="145.6" r="1.1" fill="#36bcee"/>
<circle cx="407" cy="143" r="1.1" fill="#36bcee"/>
<circle cx="413" cy="140.6" r="1.1" fill="#36bcee"/>
<circle cx="418.6" cy="141" r="1.1" fill="#36bcee"/>
<circle cx="424" cy="139.4" r="1.1" fill="#36bcee"/>
<circle cx="429.6" cy="139.6" r="1.1" fill="#36bcee"/>
<circle cx="435" cy="138" r="1.1" fill="#36bcee"/>
<circle cx="440.6" cy="138.6" r="1.1" fill="#36bcee"/>
<circle cx="446.4" cy="136.6" r="1.1" fill="#36bcee"/>
<circle cx="452" cy="138" r="1.1" fill="#36bcee"/>
<circle cx="457.4" cy="136" r="1.1" fill="#36bcee"/>
<circle cx="463" cy="135.4" r="1.1" fill="#36bcee"/>
<circle cx="468.6" cy="132" r="1.1" fill="#36bcee"/>
<circle cx="474" cy="133" r="1.1" fill="#36bcee"/>
<rect x="321.58" y="166.02" width="2.15" height="54.78" fill="#0bbff0"/>
<rect x="335.91" y="186.68" width="2.15" height="34.12" fill="#0bbff0"/>
<rect x="350.25" y="187.89" width="2.15" height="32.91" fill="#0bbff0"/>
<rect x="364.12" y="206.87" width="2.15" height="13.93" fill="#0bbff0"/>
<rect x="378.46" y="218.64" width="2.15" height="2.16" fill="#0bbff0"/>
<rect x="392.34" y="220.2" width="2.15" height="0.6" fill="#0bbff0"/>
<rect x="406.68" y="220.2" width="2.15" height="0.6" fill="#0bbff0"/>
<rect x="421.01" y="219" width="2.15" height="1.8" fill="#0bbff0"/>
<rect x="433.96" y="213.95" width="2.15" height="6.85" fill="#0bbff0"/>
<rect x="448.3" y="210.71" width="2.15" height="10.09" fill="#0bbff0"/>
<rect x="462.18" y="165.78" width="2.15" height="55.02" fill="#0bbff0"/>
<rect x="476.51" y="182.12" width="2.15" height="38.68" fill="#0bbff0"/>
<rect x="497.8" y="127.6" width="28.6" height="33.1" fill="#fff" stroke="#c8c8c8" stroke-width="0.5"/>
<line x1="498.8" y1="130.7" x2="506.8" y2="130.7" stroke="#7a2d9a" stroke-width="0.8"/>
<circle cx="502.8" cy="130.7" r="0.9" fill="#7a2d9a"/>
<text x="507.4" y="132.3" font-size="4.7" fill="#222" stroke="#222" stroke-width="0.05">P10 Desc</text>
<line x1="498.8" y1="136.05" x2="506.8" y2="136.05" stroke="#9a3aa6" stroke-width="0.8"/>
<circle cx="502.8" cy="136.05" r="0.9" fill="#9a3aa6"/>
<text x="507.4" y="137.65" font-size="4.7" fill="#222" stroke="#222" stroke-width="0.05">P10 Asc</text>
<line x1="498.8" y1="141.4" x2="506.8" y2="141.4" stroke="#6aac36" stroke-width="0.8"/>
<circle cx="502.8" cy="141.4" r="0.9" fill="#6aac36"/>
<text x="507.4" y="143" font-size="4.7" fill="#222" stroke="#222" stroke-width="0.05">P11 Desc</text>
<line x1="498.8" y1="146.75" x2="506.8" y2="146.75" stroke="#5aa02a" stroke-width="0.8"/>
<circle cx="502.8" cy="146.75" r="0.9" fill="#5aa02a"/>
<text x="507.4" y="148.35" font-size="4.7" fill="#222" stroke="#222" stroke-width="0.05">P11 Asc</text>
<line x1="498.8" y1="152.1" x2="506.8" y2="152.1" stroke="#36bcee" stroke-width="0.8"/>
<circle cx="502.8" cy="152.1" r="0.9" fill="#36bcee"/>
<text x="507.4" y="153.7" font-size="4.7" fill="#222" stroke="#222" stroke-width="0.05">P12 Asc</text>
<rect x="498.8" y="155.35" width="8.0" height="4.2" fill="#0bbff0"/>
<text x="507.4" y="159.05" font-size="4.7" fill="#222" stroke="#222" stroke-width="0.05">Rainfall</text>
</g>
<g id="pe">
<line x1="163.8" y1="255.26" x2="385.5" y2="255.26" stroke="#efefef" stroke-width="0.5"/>
<line x1="163.8" y1="267.32" x2="385.5" y2="267.32" stroke="#efefef" stroke-width="0.5"/>
<line x1="163.8" y1="279.39" x2="385.5" y2="279.39" stroke="#efefef" stroke-width="0.5"/>
<line x1="163.8" y1="291.45" x2="385.5" y2="291.45" stroke="#efefef" stroke-width="0.5"/>
<line x1="163.8" y1="303.51" x2="385.5" y2="303.51" stroke="#efefef" stroke-width="0.5"/>
<line x1="163.8" y1="315.57" x2="385.5" y2="315.57" stroke="#efefef" stroke-width="0.5"/>
<line x1="163.8" y1="327.64" x2="385.5" y2="327.64" stroke="#efefef" stroke-width="0.5"/>
<line x1="163.8" y1="339.7" x2="385.5" y2="339.7" stroke="#efefef" stroke-width="0.5"/>
<line x1="201.1" y1="243.2" x2="201.1" y2="339.7" stroke="#efefef" stroke-width="0.5"/>
<line x1="238.1" y1="243.2" x2="238.1" y2="339.7" stroke="#efefef" stroke-width="0.5"/>
<line x1="275.1" y1="243.2" x2="275.1" y2="339.7" stroke="#efefef" stroke-width="0.5"/>
<line x1="312.1" y1="243.2" x2="312.1" y2="339.7" stroke="#efefef" stroke-width="0.5"/>
<line x1="349.1" y1="243.2" x2="349.1" y2="339.7" stroke="#efefef" stroke-width="0.5"/>
<line x1="169.8" y1="243.2" x2="169.8" y2="258.2" stroke="#a2a2a2" stroke-width="0.9"/>
<line x1="169.8" y1="258.2" x2="169.8" y2="339.7" stroke="#606060" stroke-width="0.8" stroke-dasharray="1 2"/>
<line x1="176.3" y1="243.2" x2="176.3" y2="258.2" stroke="#a2a2a2" stroke-width="0.9"/>
<line x1="176.3" y1="258.2" x2="176.3" y2="339.7" stroke="#606060" stroke-width="0.8" stroke-dasharray="1 2"/>
<line x1="298.9" y1="243.2" x2="298.9" y2="258.2" stroke="#a2a2a2" stroke-width="0.9"/>
<line x1="298.9" y1="258.2" x2="298.9" y2="339.7" stroke="#606060" stroke-width="0.8" stroke-dasharray="1 2"/>
<line x1="305.7" y1="243.2" x2="305.7" y2="258.2" stroke="#a2a2a2" stroke-width="0.9"/>
<line x1="305.7" y1="258.2" x2="305.7" y2="339.7" stroke="#606060" stroke-width="0.8" stroke-dasharray="1 2"/>
<line x1="312.6" y1="243.2" x2="312.6" y2="258.2" stroke="#a2a2a2" stroke-width="0.9"/>
<line x1="312.6" y1="258.2" x2="312.6" y2="339.7" stroke="#606060" stroke-width="0.8" stroke-dasharray="1 2"/>
<text transform="translate(173.4,338.4) rotate(-90)" x="0" y="1.5" font-size="4.1" textLength="43.8" lengthAdjust="spacingAndGlyphs" fill="#1a1a1a" stroke="#1a1a1a" stroke-width="0.2">Emergency Engineering</text>
<text transform="translate(296.7,338.8) rotate(-90)" x="0" y="1.5" font-size="4.3" textLength="32.5" lengthAdjust="spacingAndGlyphs" fill="#555">Sediment cleaning</text>
<text transform="translate(303.5,338.8) rotate(-90)" x="0" y="1.5" font-size="4.3" textLength="32.5" lengthAdjust="spacingAndGlyphs" fill="#555">Slope protection</text>
<text transform="translate(310.4,338.8) rotate(-90)" x="0" y="1.5" font-size="4.3" textLength="30.5" lengthAdjust="spacingAndGlyphs" fill="#555">Earth backfilling</text>
<line x1="163.8" y1="243.2" x2="163.8" y2="339.7" stroke="#bdbdbd" stroke-width="0.6"/>
<line x1="385.5" y1="243.2" x2="385.5" y2="339.7" stroke="#bdbdbd" stroke-width="0.6"/>
<line x1="163.8" y1="339.7" x2="385.5" y2="339.7" stroke="#bdbdbd" stroke-width="0.7"/>
<line x1="163.8" y1="243.2" x2="165.1" y2="243.2" stroke="#bdbdbd" stroke-width="0.5"/>
<line x1="384.2" y1="243.2" x2="385.5" y2="243.2" stroke="#bdbdbd" stroke-width="0.5"/>
<line x1="163.8" y1="255.26" x2="165.1" y2="255.26" stroke="#bdbdbd" stroke-width="0.5"/>
<line x1="384.2" y1="255.26" x2="385.5" y2="255.26" stroke="#bdbdbd" stroke-width="0.5"/>
<line x1="163.8" y1="267.32" x2="165.1" y2="267.32" stroke="#bdbdbd" stroke-width="0.5"/>
<line x1="384.2" y1="267.32" x2="385.5" y2="267.32" stroke="#bdbdbd" stroke-width="0.5"/>
<line x1="163.8" y1="279.39" x2="165.1" y2="279.39" stroke="#bdbdbd" stroke-width="0.5"/>
<line x1="384.2" y1="279.39" x2="385.5" y2="279.39" stroke="#bdbdbd" stroke-width="0.5"/>
<line x1="163.8" y1="291.45" x2="165.1" y2="291.45" stroke="#bdbdbd" stroke-width="0.5"/>
<line x1="384.2" y1="291.45" x2="385.5" y2="291.45" stroke="#bdbdbd" stroke-width="0.5"/>
<line x1="163.8" y1="303.51" x2="165.1" y2="303.51" stroke="#bdbdbd" stroke-width="0.5"/>
<line x1="384.2" y1="303.51" x2="385.5" y2="303.51" stroke="#bdbdbd" stroke-width="0.5"/>
<line x1="163.8" y1="315.57" x2="165.1" y2="315.57" stroke="#bdbdbd" stroke-width="0.5"/>
<line x1="384.2" y1="315.57" x2="385.5" y2="315.57" stroke="#bdbdbd" stroke-width="0.5"/>
<line x1="163.8" y1="327.64" x2="165.1" y2="327.64" stroke="#bdbdbd" stroke-width="0.5"/>
<line x1="384.2" y1="327.64" x2="385.5" y2="327.64" stroke="#bdbdbd" stroke-width="0.5"/>
<line x1="163.8" y1="339.7" x2="165.1" y2="339.7" stroke="#bdbdbd" stroke-width="0.5"/>
<line x1="384.2" y1="339.7" x2="385.5" y2="339.7" stroke="#bdbdbd" stroke-width="0.5"/>
<line x1="201.1" y1="338.4" x2="201.1" y2="339.7" stroke="#bdbdbd" stroke-width="0.5"/>
<line x1="201.1" y1="243.2" x2="201.1" y2="244.7" stroke="#bdbdbd" stroke-width="0.5"/>
<line x1="238.1" y1="338.4" x2="238.1" y2="339.7" stroke="#bdbdbd" stroke-width="0.5"/>
<line x1="238.1" y1="243.2" x2="238.1" y2="244.7" stroke="#bdbdbd" stroke-width="0.5"/>
<line x1="275.1" y1="338.4" x2="275.1" y2="339.7" stroke="#bdbdbd" stroke-width="0.5"/>
<line x1="275.1" y1="243.2" x2="275.1" y2="244.7" stroke="#bdbdbd" stroke-width="0.5"/>
<line x1="312.1" y1="338.4" x2="312.1" y2="339.7" stroke="#bdbdbd" stroke-width="0.5"/>
<line x1="312.1" y1="243.2" x2="312.1" y2="244.7" stroke="#bdbdbd" stroke-width="0.5"/>
<line x1="349.1" y1="338.4" x2="349.1" y2="339.7" stroke="#bdbdbd" stroke-width="0.5"/>
<line x1="349.1" y1="243.2" x2="349.1" y2="244.7" stroke="#bdbdbd" stroke-width="0.5"/>
<text x="162.4" y="245" font-size="5.2" text-anchor="end" fill="#000" stroke="#000" stroke-width="0.07">200</text>
<text x="387.7" y="245" font-size="5.2" fill="#000" stroke="#000" stroke-width="0.07">400</text>
<text x="162.4" y="257.06" font-size="5.2" text-anchor="end" fill="#000" stroke="#000" stroke-width="0.07">150</text>
<text x="387.7" y="257.06" font-size="5.2" fill="#000" stroke="#000" stroke-width="0.07">350</text>
<text x="162.4" y="269.12" font-size="5.2" text-anchor="end" fill="#000" stroke="#000" stroke-width="0.07">100</text>
<text x="387.7" y="269.12" font-size="5.2" fill="#000" stroke="#000" stroke-width="0.07">300</text>
<text x="162.4" y="281.19" font-size="5.2" text-anchor="end" fill="#000" stroke="#000" stroke-width="0.07">50</text>
<text x="387.7" y="281.19" font-size="5.2" fill="#000" stroke="#000" stroke-width="0.07">250</text>
<text x="162.4" y="293.25" font-size="5.2" text-anchor="end" fill="#000" stroke="#000" stroke-width="0.07">0</text>
<text x="387.7" y="293.25" font-size="5.2" fill="#000" stroke="#000" stroke-width="0.07">200</text>
<text x="162.4" y="305.31" font-size="5.2" text-anchor="end" fill="#000" stroke="#000" stroke-width="0.07">-50</text>
<text x="387.7" y="305.31" font-size="5.2" fill="#000" stroke="#000" stroke-width="0.07">150</text>
<text x="162.4" y="317.38" font-size="5.2" text-anchor="end" fill="#000" stroke="#000" stroke-width="0.07">-100</text>
<text x="387.7" y="317.38" font-size="5.2" fill="#000" stroke="#000" stroke-width="0.07">100</text>
<text x="162.4" y="329.44" font-size="5.2" text-anchor="end" fill="#000" stroke="#000" stroke-width="0.07">-150</text>
<text x="387.7" y="329.44" font-size="5.2" fill="#000" stroke="#000" stroke-width="0.07">50</text>
<text x="162.4" y="341.5" font-size="5.2" text-anchor="end" fill="#000" stroke="#000" stroke-width="0.07">-200</text>
<text x="387.7" y="341.5" font-size="5.2" fill="#000" stroke="#000" stroke-width="0.07">0</text>
<text x="201.1" y="346.4" font-size="5.3" text-anchor="middle" fill="#000" stroke="#000" stroke-width="0.07">31/08/2020</text>
<text x="238.1" y="346.4" font-size="5.3" text-anchor="middle" fill="#000" stroke="#000" stroke-width="0.07">19/11/2020</text>
<text x="275.1" y="346.4" font-size="5.3" text-anchor="middle" fill="#000" stroke="#000" stroke-width="0.07">07/02/2021</text>
<text x="312.1" y="346.4" font-size="5.3" text-anchor="middle" fill="#000" stroke="#000" stroke-width="0.07">28/04/2021</text>
<text x="349.1" y="346.4" font-size="5.3" text-anchor="middle" fill="#000" stroke="#000" stroke-width="0.07">17/07/2021</text>
<text transform="translate(151.3,291.1) rotate(-90)" x="0" y="0" font-size="5.8" font-weight="bold" text-anchor="middle" textLength="48.2" lengthAdjust="spacingAndGlyphs" fill="#111" stroke="#111" stroke-width="0.2">Displacement (mm)</text>
<text transform="translate(401.2,290.75) rotate(-90)" x="0" y="0" font-size="5.6" font-weight="bold" text-anchor="middle" textLength="68.3" lengthAdjust="spacingAndGlyphs" fill="#111" stroke="#111" stroke-width="0.2">Monthly Precipitation (mm)</text>
<text x="177.4" y="250.1" font-size="6.6" font-weight="bold" fill="#111" stroke="#111" stroke-width="0.2">(e)</text>
<polyline points="173,291 179,293 184,295.4 190,296 196,296 201,298 206,299.4 212,304 217,292.6 223,299 229,295.4 234,297.4 240,296 246,298 252,297.4 257,297.4 263,297.4 268,296.6 273,297 279,298 284,296.4 289.6,297.4 295,295 300.6,297.4 306,297 312,299.4 317.6,301 323,306 328.4,304" fill="none" stroke="#1f74c4" stroke-width="0.75" stroke-linejoin="round"/>
<circle cx="173" cy="291" r="1.1" fill="#1f74c4"/>
<circle cx="179" cy="293" r="1.1" fill="#1f74c4"/>
<circle cx="184" cy="295.4" r="1.1" fill="#1f74c4"/>
<circle cx="190" cy="296" r="1.1" fill="#1f74c4"/>
<circle cx="196" cy="296" r="1.1" fill="#1f74c4"/>
<circle cx="201" cy="298" r="1.1" fill="#1f74c4"/>
<circle cx="206" cy="299.4" r="1.1" fill="#1f74c4"/>
<circle cx="212" cy="304" r="1.1" fill="#1f74c4"/>
<circle cx="217" cy="292.6" r="1.1" fill="#1f74c4"/>
<circle cx="223" cy="299" r="1.1" fill="#1f74c4"/>
<circle cx="229" cy="295.4" r="1.1" fill="#1f74c4"/>
<circle cx="234" cy="297.4" r="1.1" fill="#1f74c4"/>
<circle cx="240" cy="296" r="1.1" fill="#1f74c4"/>
<circle cx="246" cy="298" r="1.1" fill="#1f74c4"/>
<circle cx="252" cy="297.4" r="1.1" fill="#1f74c4"/>
<circle cx="257" cy="297.4" r="1.1" fill="#1f74c4"/>
<circle cx="263" cy="297.4" r="1.1" fill="#1f74c4"/>
<circle cx="268" cy="296.6" r="1.1" fill="#1f74c4"/>
<circle cx="273" cy="297" r="1.1" fill="#1f74c4"/>
<circle cx="279" cy="298" r="1.1" fill="#1f74c4"/>
<circle cx="284" cy="296.4" r="1.1" fill="#1f74c4"/>
<circle cx="289.6" cy="297.4" r="1.1" fill="#1f74c4"/>
<circle cx="295" cy="295" r="1.1" fill="#1f74c4"/>
<circle cx="300.6" cy="297.4" r="1.1" fill="#1f74c4"/>
<circle cx="306" cy="297" r="1.1" fill="#1f74c4"/>
<circle cx="312" cy="299.4" r="1.1" fill="#1f74c4"/>
<circle cx="317.6" cy="301" r="1.1" fill="#1f74c4"/>
<circle cx="323" cy="306" r="1.1" fill="#1f74c4"/>
<circle cx="328.4" cy="304" r="1.1" fill="#1f74c4"/>
<polyline points="173,291 179,289 184,292 190,288.6 195,287 201,289 206,288 212,288.6 217,289 223,291.4 228,290 234,292.6 240,292.6 245,291.6 250,291.6 256,291.6 262,294 267,293 273,293 279,292.4 284,292.4 289.6,291.4 295,291.6 300.6,291.4 306,290.4 312,291 317.6,288 323,287.4 328.4,289.4" fill="none" stroke="#c8203c" stroke-width="0.75" stroke-linejoin="round"/>
<circle cx="173" cy="291" r="1.1" fill="#c8203c"/>
<circle cx="179" cy="289" r="1.1" fill="#c8203c"/>
<circle cx="184" cy="292" r="1.1" fill="#c8203c"/>
<circle cx="190" cy="288.6" r="1.1" fill="#c8203c"/>
<circle cx="195" cy="287" r="1.1" fill="#c8203c"/>
<circle cx="201" cy="289" r="1.1" fill="#c8203c"/>
<circle cx="206" cy="288" r="1.1" fill="#c8203c"/>
<circle cx="212" cy="288.6" r="1.1" fill="#c8203c"/>
<circle cx="217" cy="289" r="1.1" fill="#c8203c"/>
<circle cx="223" cy="291.4" r="1.1" fill="#c8203c"/>
<circle cx="228" cy="290" r="1.1" fill="#c8203c"/>
<circle cx="234" cy="292.6" r="1.1" fill="#c8203c"/>
<circle cx="240" cy="292.6" r="1.1" fill="#c8203c"/>
<circle cx="245" cy="291.6" r="1.1" fill="#c8203c"/>
<circle cx="250" cy="291.6" r="1.1" fill="#c8203c"/>
<circle cx="256" cy="291.6" r="1.1" fill="#c8203c"/>
<circle cx="262" cy="294" r="1.1" fill="#c8203c"/>
<circle cx="267" cy="293" r="1.1" fill="#c8203c"/>
<circle cx="273" cy="293" r="1.1" fill="#c8203c"/>
<circle cx="279" cy="292.4" r="1.1" fill="#c8203c"/>
<circle cx="284" cy="292.4" r="1.1" fill="#c8203c"/>
<circle cx="289.6" cy="291.4" r="1.1" fill="#c8203c"/>
<circle cx="295" cy="291.6" r="1.1" fill="#c8203c"/>
<circle cx="300.6" cy="291.4" r="1.1" fill="#c8203c"/>
<circle cx="306" cy="290.4" r="1.1" fill="#c8203c"/>
<circle cx="312" cy="291" r="1.1" fill="#c8203c"/>
<circle cx="317.6" cy="288" r="1.1" fill="#c8203c"/>
<circle cx="323" cy="287.4" r="1.1" fill="#c8203c"/>
<circle cx="328.4" cy="289.4" r="1.1" fill="#c8203c"/>
<polyline points="173,291 179,291 184,292 190,290.6 196,289.4 203,294 208,293 213,296.6 219,299 224,301.4 230,301.4 236,302 242,301.4 247,301 253,300 258,301 264,300 270,300.6 276,299 281,299 286,300.6 292,299 297,299 303,301 308,299.4 314,299.4 319.6,300.6 325,300 331,298.6" fill="none" stroke="#b41830" stroke-width="0.75" stroke-linejoin="round"/>
<circle cx="173" cy="291" r="1.1" fill="#b41830"/>
<circle cx="179" cy="291" r="1.1" fill="#b41830"/>
<circle cx="184" cy="292" r="1.1" fill="#b41830"/>
<circle cx="190" cy="290.6" r="1.1" fill="#b41830"/>
<circle cx="196" cy="289.4" r="1.1" fill="#b41830"/>
<circle cx="203" cy="294" r="1.1" fill="#b41830"/>
<circle cx="208" cy="293" r="1.1" fill="#b41830"/>
<circle cx="213" cy="296.6" r="1.1" fill="#b41830"/>
<circle cx="219" cy="299" r="1.1" fill="#b41830"/>
<circle cx="224" cy="301.4" r="1.1" fill="#b41830"/>
<circle cx="230" cy="301.4" r="1.1" fill="#b41830"/>
<circle cx="236" cy="302" r="1.1" fill="#b41830"/>
<circle cx="242" cy="301.4" r="1.1" fill="#b41830"/>
<circle cx="247" cy="301" r="1.1" fill="#b41830"/>
<circle cx="253" cy="300" r="1.1" fill="#b41830"/>
<circle cx="258" cy="301" r="1.1" fill="#b41830"/>
<circle cx="264" cy="300" r="1.1" fill="#b41830"/>
<circle cx="270" cy="300.6" r="1.1" fill="#b41830"/>
<circle cx="276" cy="299" r="1.1" fill="#b41830"/>
<circle cx="281" cy="299" r="1.1" fill="#b41830"/>
<circle cx="286" cy="300.6" r="1.1" fill="#b41830"/>
<circle cx="292" cy="299" r="1.1" fill="#b41830"/>
<circle cx="297" cy="299" r="1.1" fill="#b41830"/>
<circle cx="303" cy="301" r="1.1" fill="#b41830"/>
<circle cx="308" cy="299.4" r="1.1" fill="#b41830"/>
<circle cx="314" cy="299.4" r="1.1" fill="#b41830"/>
<circle cx="319.6" cy="300.6" r="1.1" fill="#b41830"/>
<circle cx="325" cy="300" r="1.1" fill="#b41830"/>
<circle cx="331" cy="298.6" r="1.1" fill="#b41830"/>
<polyline points="173,291 179,292 185,291 192,291.4 198,295 204,297 209,295 215,299.4 219,302 224,305 230,306.6 236,306.6 242,306 248,305 254,305 259,304 264,304.6 270,305.4 275,304 281,303.6 286.4,305 292,303.4 297,303.6 303,304 308.4,303 314,302 319.6,302.6 325,303 331,303.6" fill="none" stroke="#8a8a8a" stroke-width="0.75" stroke-linejoin="round"/>
<circle cx="173" cy="291" r="1.1" fill="#8a8a8a"/>
<circle cx="179" cy="292" r="1.1" fill="#8a8a8a"/>
<circle cx="185" cy="291" r="1.1" fill="#8a8a8a"/>
<circle cx="192" cy="291.4" r="1.1" fill="#8a8a8a"/>
<circle cx="198" cy="295" r="1.1" fill="#8a8a8a"/>
<circle cx="204" cy="297" r="1.1" fill="#8a8a8a"/>
<circle cx="209" cy="295" r="1.1" fill="#8a8a8a"/>
<circle cx="215" cy="299.4" r="1.1" fill="#8a8a8a"/>
<circle cx="219" cy="302" r="1.1" fill="#8a8a8a"/>
<circle cx="224" cy="305" r="1.1" fill="#8a8a8a"/>
<circle cx="230" cy="306.6" r="1.1" fill="#8a8a8a"/>
<circle cx="236" cy="306.6" r="1.1" fill="#8a8a8a"/>
<circle cx="242" cy="306" r="1.1" fill="#8a8a8a"/>
<circle cx="248" cy="305" r="1.1" fill="#8a8a8a"/>
<circle cx="254" cy="305" r="1.1" fill="#8a8a8a"/>
<circle cx="259" cy="304" r="1.1" fill="#8a8a8a"/>
<circle cx="264" cy="304.6" r="1.1" fill="#8a8a8a"/>
<circle cx="270" cy="305.4" r="1.1" fill="#8a8a8a"/>
<circle cx="275" cy="304" r="1.1" fill="#8a8a8a"/>
<circle cx="281" cy="303.6" r="1.1" fill="#8a8a8a"/>
<circle cx="286.4" cy="305" r="1.1" fill="#8a8a8a"/>
<circle cx="292" cy="303.4" r="1.1" fill="#8a8a8a"/>
<circle cx="297" cy="303.6" r="1.1" fill="#8a8a8a"/>
<circle cx="303" cy="304" r="1.1" fill="#8a8a8a"/>
<circle cx="308.4" cy="303" r="1.1" fill="#8a8a8a"/>
<circle cx="314" cy="302" r="1.1" fill="#8a8a8a"/>
<circle cx="319.6" cy="302.6" r="1.1" fill="#8a8a8a"/>
<circle cx="325" cy="303" r="1.1" fill="#8a8a8a"/>
<circle cx="331" cy="303.6" r="1.1" fill="#8a8a8a"/>
<rect x="178.08" y="284.69" width="2.15" height="55" fill="#0bbff0"/>
<rect x="192.41" y="305.44" width="2.15" height="34.26" fill="#0bbff0"/>
<rect x="206.75" y="306.65" width="2.15" height="33.05" fill="#0bbff0"/>
<rect x="220.63" y="325.71" width="2.15" height="13.99" fill="#0bbff0"/>
<rect x="234.96" y="337.53" width="2.15" height="2.17" fill="#0bbff0"/>
<rect x="248.84" y="339.1" width="2.15" height="0.6" fill="#0bbff0"/>
<rect x="263.18" y="339.1" width="2.15" height="0.6" fill="#0bbff0"/>
<rect x="277.51" y="337.89" width="2.15" height="1.81" fill="#0bbff0"/>
<rect x="290.46" y="332.82" width="2.15" height="6.88" fill="#0bbff0"/>
<rect x="304.8" y="329.57" width="2.15" height="10.13" fill="#0bbff0"/>
<rect x="318.68" y="284.45" width="2.15" height="55.25" fill="#0bbff0"/>
<rect x="333.01" y="300.86" width="2.15" height="38.84" fill="#0bbff0"/>
<rect x="355.2" y="245.6" width="28.6" height="27.75" fill="#fff" stroke="#c8c8c8" stroke-width="0.5"/>
<line x1="356.2" y1="248.7" x2="364.2" y2="248.7" stroke="#1f74c4" stroke-width="0.8"/>
<circle cx="360.2" cy="248.7" r="0.9" fill="#1f74c4"/>
<text x="364.8" y="250.3" font-size="4.7" fill="#222" stroke="#222" stroke-width="0.05">P13 Desc</text>
<line x1="356.2" y1="254.05" x2="364.2" y2="254.05" stroke="#c8203c" stroke-width="0.8"/>
<circle cx="360.2" cy="254.05" r="0.9" fill="#c8203c"/>
<text x="364.8" y="255.65" font-size="4.7" fill="#222" stroke="#222" stroke-width="0.05">P14 Desc</text>
<line x1="356.2" y1="259.4" x2="364.2" y2="259.4" stroke="#b41830" stroke-width="0.8"/>
<circle cx="360.2" cy="259.4" r="0.9" fill="#b41830"/>
<text x="364.8" y="261" font-size="4.7" fill="#222" stroke="#222" stroke-width="0.05">P14 Asc</text>
<line x1="356.2" y1="264.75" x2="364.2" y2="264.75" stroke="#8a8a8a" stroke-width="0.8"/>
<circle cx="360.2" cy="264.75" r="0.9" fill="#8a8a8a"/>
<text x="364.8" y="266.35" font-size="4.7" fill="#222" stroke="#222" stroke-width="0.05">P15 Asc</text>
<rect x="356.2" y="268" width="8.0" height="4.2" fill="#0bbff0"/>
<text x="364.8" y="271.7" font-size="4.7" fill="#222" stroke="#222" stroke-width="0.05">Rainfall</text>
</g>
</svg>
</body></html>
